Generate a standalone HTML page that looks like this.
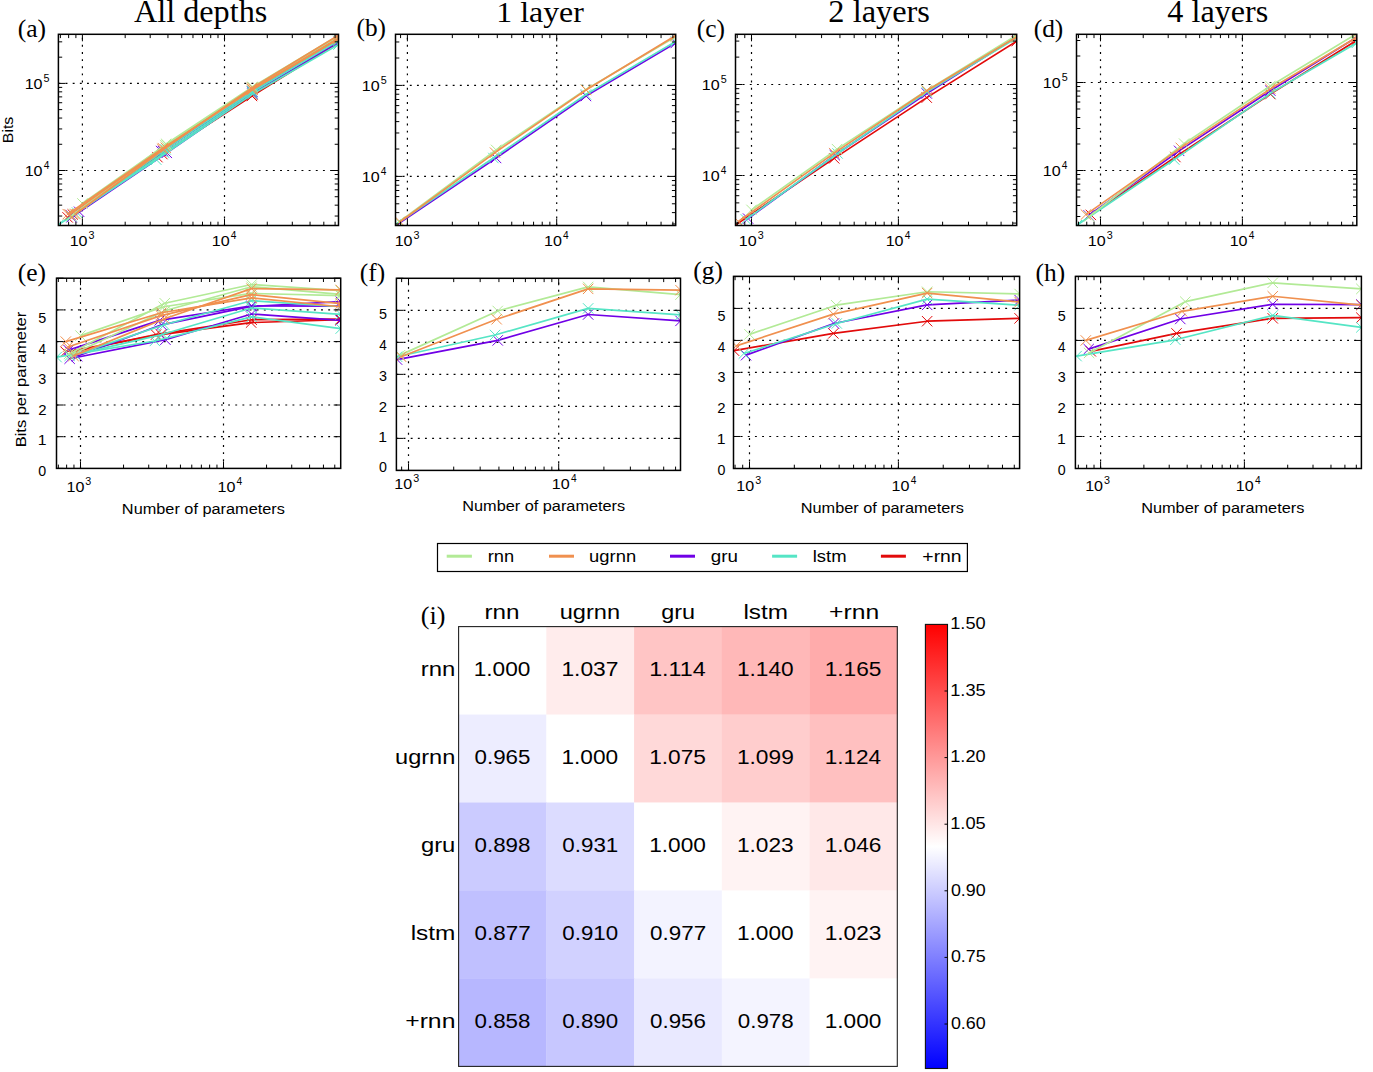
<!DOCTYPE html><html><head><meta charset="utf-8"><style>html,body{margin:0;padding:0;background:#fff;}svg{display:block;}</style></head><body><svg width="1373" height="1072" viewBox="0 0 1373 1072">
<rect width="1373" height="1072" fill="#fff"/>
<clipPath id="clip_a"><rect x="58.4" y="34.3" width="280.1" height="191.2"/></clipPath>
<g stroke="#000" stroke-width="1.2" stroke-dasharray="1.9 5.25" fill="none">
<line x1="82.4" y1="225.5" x2="82.4" y2="34.3"/>
<line x1="224.5" y1="225.5" x2="224.5" y2="34.3"/>
<line x1="58.4" y1="170.5" x2="338.5" y2="170.5"/>
<line x1="58.4" y1="83.4" x2="338.5" y2="83.4"/>
</g>
<g clip-path="url(#clip_a)" fill="none" stroke-linejoin="round">
<polyline points="67.62,217.37 162.4,154.1 251.93,95.96 338.5,42.16" stroke="#e20a0a" stroke-width="1.7"/>
<path d="M62.42 212.17L72.82 222.57M62.42 222.57L72.82 212.17M157.2 148.9L167.6 159.3M157.2 159.3L167.6 148.9M246.73 90.76L257.13 101.16M246.73 101.16L257.13 90.76M333.3 36.96L343.7 47.36M333.3 47.36L343.7 36.96" stroke="#e20a0a" stroke-width="1.0"/>
<polyline points="72.74,214.44 157.43,157.15 252.49,94.88 338.5,42" stroke="#e20a0a" stroke-width="1.7"/>
<path d="M67.54 209.24L77.94 219.64M67.54 219.64L77.94 209.24M152.23 151.95L162.63 162.35M152.23 162.35L162.63 151.95M247.29 89.68L257.69 100.08M247.29 100.08L257.69 89.68M333.3 36.8L343.7 47.2M333.3 47.2L343.7 36.8" stroke="#e20a0a" stroke-width="1.0"/>
<polyline points="71.6,217.27 166.81,152.86 252.35,93.54 338.5,42.33" stroke="#7000e6" stroke-width="1.7"/>
<path d="M66.4 212.07L76.8 222.47M66.4 222.47L76.8 212.07M161.61 147.66L172.01 158.06M161.61 158.06L172.01 147.66M247.15 88.34L257.55 98.74M247.15 98.74L257.55 88.34M333.3 37.13L343.7 47.53M333.3 47.53L343.7 37.13" stroke="#7000e6" stroke-width="1.0"/>
<polyline points="79.13,211.79 162.97,151.07 251.93,91.99 338.5,37.83" stroke="#7000e6" stroke-width="1.7"/>
<path d="M73.93 206.59L84.33 216.99M73.93 216.99L84.33 206.59M157.77 145.87L168.17 156.27M157.77 156.27L168.17 145.87M246.73 86.79L257.13 97.19M246.73 97.19L257.13 86.79M333.3 32.63L343.7 43.03M333.3 43.03L343.7 32.63" stroke="#7000e6" stroke-width="1.0"/>
<polyline points="70.61,215.03 161.12,151.05 252.49,91.49 338.5,38.85" stroke="#7000e6" stroke-width="1.7"/>
<path d="M65.41 209.83L75.81 220.23M65.41 220.23L75.81 209.83M155.92 145.85L166.32 156.25M155.92 156.25L166.32 145.85M247.29 86.29L257.69 96.69M247.29 96.69L257.69 86.29M333.3 33.65L343.7 44.05M333.3 44.05L343.7 33.65" stroke="#7000e6" stroke-width="1.0"/>
<polyline points="71.6,216.29 164.25,152.88 252.35,92.1 338.5,40.82" stroke="#55e5c5" stroke-width="1.7"/>
<path d="M66.4 211.09L76.8 221.49M66.4 221.49L76.8 211.09M159.05 147.68L169.45 158.08M159.05 158.08L169.45 147.68M247.15 86.9L257.55 97.3M247.15 97.3L257.55 86.9M333.3 35.62L343.7 46.02M333.3 46.02L343.7 35.62" stroke="#55e5c5" stroke-width="1.0"/>
<polyline points="77,212.56 165.67,149.41 251.93,90.68 338.5,38.99" stroke="#55e5c5" stroke-width="1.7"/>
<path d="M71.8 207.36L82.2 217.76M71.8 217.76L82.2 207.36M160.47 144.21L170.87 154.61M160.47 154.61L170.87 144.21M246.73 85.48L257.13 95.88M246.73 95.88L257.13 85.48M333.3 33.79L343.7 44.19M333.3 44.19L343.7 33.79" stroke="#55e5c5" stroke-width="1.0"/>
<polyline points="58.67,224.65 156.29,159.68 252.49,94.16 338.5,44.49" stroke="#55e5c5" stroke-width="1.7"/>
<path d="M53.47 219.45L63.87 229.85M53.47 229.85L63.87 219.45M151.09 154.48L161.49 164.88M151.09 164.88L161.49 154.48M247.29 88.96L257.69 99.36M247.29 99.36L257.69 88.96M333.3 39.29L343.7 49.69M333.3 49.69L343.7 39.29" stroke="#55e5c5" stroke-width="1.0"/>
<polyline points="74.44,214.02 166.81,145.13 252.35,87.39 338.5,36.21" stroke="#b2ea96" stroke-width="1.7"/>
<path d="M69.24 208.82L79.64 219.22M69.24 219.22L79.64 208.82M161.61 139.93L172.01 150.33M161.61 150.33L172.01 139.93M247.15 82.19L257.55 92.59M247.15 92.59L257.55 82.19M333.3 31.01L343.7 41.41M333.3 41.41L343.7 31.01" stroke="#b2ea96" stroke-width="1.0"/>
<polyline points="82.4,203.41 165.1,145.28 251.93,89.07 338.5,36.48" stroke="#b2ea96" stroke-width="1.7"/>
<path d="M77.2 198.21L87.6 208.61M77.2 208.61L87.6 198.21M159.9 140.08L170.3 150.48M159.9 150.48L170.3 140.08M246.73 83.87L257.13 94.27M246.73 94.27L257.13 83.87M333.3 31.28L343.7 41.68M333.3 41.68L343.7 31.28" stroke="#b2ea96" stroke-width="1.0"/>
<polyline points="71.03,216.01 166.1,143.86 252.49,86.85 338.5,35.39" stroke="#b2ea96" stroke-width="1.7"/>
<path d="M65.83 210.81L76.23 221.21M65.83 221.21L76.23 210.81M160.9 138.66L171.3 149.06M160.9 149.06L171.3 138.66M247.29 81.65L257.69 92.05M247.29 92.05L257.69 81.65M333.3 30.19L343.7 40.59M333.3 40.59L343.7 30.19" stroke="#b2ea96" stroke-width="1.0"/>
<polyline points="75.44,213.94 165.81,147.77 252.35,87.79 338.5,35.25" stroke="#f0904f" stroke-width="1.7"/>
<path d="M70.24 208.74L80.64 219.14M70.24 219.14L80.64 208.74M160.61 142.57L171.01 152.97M160.61 152.97L171.01 142.57M247.15 82.59L257.55 92.99M247.15 92.99L257.55 82.59M333.3 30.05L343.7 40.45M333.3 40.45L343.7 30.05" stroke="#f0904f" stroke-width="1.0"/>
<polyline points="69.75,214.56 162.4,149.07 251.93,89.34 338.5,38.26" stroke="#f0904f" stroke-width="1.7"/>
<path d="M64.55 209.36L74.95 219.76M64.55 219.76L74.95 209.36M157.2 143.87L167.6 154.27M157.2 154.27L167.6 143.87M246.73 84.14L257.13 94.54M246.73 94.54L257.13 84.14M333.3 33.06L343.7 43.46M333.3 43.46L343.7 33.06" stroke="#f0904f" stroke-width="1.0"/>
<polyline points="67.76,214.13 162.83,148.11 252.49,89.69 338.5,38.99" stroke="#f0904f" stroke-width="1.7"/>
<path d="M62.56 208.93L72.96 219.33M62.56 219.33L72.96 208.93M157.63 142.91L168.03 153.31M157.63 153.31L168.03 142.91M247.29 84.49L257.69 94.89M247.29 94.89L257.69 84.49M333.3 33.79L343.7 44.19M333.3 44.19L343.7 33.79" stroke="#f0904f" stroke-width="1.0"/>
</g>
<g stroke="#000" stroke-width="1.0">
<line x1="60.39" y1="225.5" x2="60.39" y2="221.7"/>
<line x1="60.39" y1="34.3" x2="60.39" y2="38.1"/>
<line x1="68.63" y1="225.5" x2="68.63" y2="221.7"/>
<line x1="68.63" y1="34.3" x2="68.63" y2="38.1"/>
<line x1="75.9" y1="225.5" x2="75.9" y2="221.7"/>
<line x1="75.9" y1="34.3" x2="75.9" y2="38.1"/>
<line x1="82.4" y1="225.5" x2="82.4" y2="218.5"/>
<line x1="82.4" y1="34.3" x2="82.4" y2="41.3"/>
<line x1="125.18" y1="225.5" x2="125.18" y2="221.7"/>
<line x1="125.18" y1="34.3" x2="125.18" y2="38.1"/>
<line x1="150.2" y1="225.5" x2="150.2" y2="221.7"/>
<line x1="150.2" y1="34.3" x2="150.2" y2="38.1"/>
<line x1="167.95" y1="225.5" x2="167.95" y2="221.7"/>
<line x1="167.95" y1="34.3" x2="167.95" y2="38.1"/>
<line x1="181.72" y1="225.5" x2="181.72" y2="221.7"/>
<line x1="181.72" y1="34.3" x2="181.72" y2="38.1"/>
<line x1="192.98" y1="225.5" x2="192.98" y2="221.7"/>
<line x1="192.98" y1="34.3" x2="192.98" y2="38.1"/>
<line x1="202.49" y1="225.5" x2="202.49" y2="221.7"/>
<line x1="202.49" y1="34.3" x2="202.49" y2="38.1"/>
<line x1="210.73" y1="225.5" x2="210.73" y2="221.7"/>
<line x1="210.73" y1="34.3" x2="210.73" y2="38.1"/>
<line x1="218" y1="225.5" x2="218" y2="221.7"/>
<line x1="218" y1="34.3" x2="218" y2="38.1"/>
<line x1="224.5" y1="225.5" x2="224.5" y2="218.5"/>
<line x1="224.5" y1="34.3" x2="224.5" y2="41.3"/>
<line x1="267.28" y1="225.5" x2="267.28" y2="221.7"/>
<line x1="267.28" y1="34.3" x2="267.28" y2="38.1"/>
<line x1="292.3" y1="225.5" x2="292.3" y2="221.7"/>
<line x1="292.3" y1="34.3" x2="292.3" y2="38.1"/>
<line x1="310.05" y1="225.5" x2="310.05" y2="221.7"/>
<line x1="310.05" y1="34.3" x2="310.05" y2="38.1"/>
<line x1="323.82" y1="225.5" x2="323.82" y2="221.7"/>
<line x1="323.82" y1="34.3" x2="323.82" y2="38.1"/>
<line x1="335.08" y1="225.5" x2="335.08" y2="221.7"/>
<line x1="335.08" y1="34.3" x2="335.08" y2="38.1"/>
<line x1="58.4" y1="216.04" x2="62.2" y2="216.04"/>
<line x1="338.5" y1="216.04" x2="334.7" y2="216.04"/>
<line x1="58.4" y1="205.16" x2="62.2" y2="205.16"/>
<line x1="338.5" y1="205.16" x2="334.7" y2="205.16"/>
<line x1="58.4" y1="196.72" x2="62.2" y2="196.72"/>
<line x1="338.5" y1="196.72" x2="334.7" y2="196.72"/>
<line x1="58.4" y1="189.82" x2="62.2" y2="189.82"/>
<line x1="338.5" y1="189.82" x2="334.7" y2="189.82"/>
<line x1="58.4" y1="183.99" x2="62.2" y2="183.99"/>
<line x1="338.5" y1="183.99" x2="334.7" y2="183.99"/>
<line x1="58.4" y1="178.94" x2="62.2" y2="178.94"/>
<line x1="338.5" y1="178.94" x2="334.7" y2="178.94"/>
<line x1="58.4" y1="174.49" x2="62.2" y2="174.49"/>
<line x1="338.5" y1="174.49" x2="334.7" y2="174.49"/>
<line x1="58.4" y1="170.5" x2="65.4" y2="170.5"/>
<line x1="338.5" y1="170.5" x2="331.5" y2="170.5"/>
<line x1="58.4" y1="144.28" x2="62.2" y2="144.28"/>
<line x1="338.5" y1="144.28" x2="334.7" y2="144.28"/>
<line x1="58.4" y1="128.94" x2="62.2" y2="128.94"/>
<line x1="338.5" y1="128.94" x2="334.7" y2="128.94"/>
<line x1="58.4" y1="118.06" x2="62.2" y2="118.06"/>
<line x1="338.5" y1="118.06" x2="334.7" y2="118.06"/>
<line x1="58.4" y1="109.62" x2="62.2" y2="109.62"/>
<line x1="338.5" y1="109.62" x2="334.7" y2="109.62"/>
<line x1="58.4" y1="102.72" x2="62.2" y2="102.72"/>
<line x1="338.5" y1="102.72" x2="334.7" y2="102.72"/>
<line x1="58.4" y1="96.89" x2="62.2" y2="96.89"/>
<line x1="338.5" y1="96.89" x2="334.7" y2="96.89"/>
<line x1="58.4" y1="91.84" x2="62.2" y2="91.84"/>
<line x1="338.5" y1="91.84" x2="334.7" y2="91.84"/>
<line x1="58.4" y1="87.39" x2="62.2" y2="87.39"/>
<line x1="338.5" y1="87.39" x2="334.7" y2="87.39"/>
<line x1="58.4" y1="83.4" x2="65.4" y2="83.4"/>
<line x1="338.5" y1="83.4" x2="331.5" y2="83.4"/>
<line x1="58.4" y1="57.18" x2="62.2" y2="57.18"/>
<line x1="338.5" y1="57.18" x2="334.7" y2="57.18"/>
<line x1="58.4" y1="41.84" x2="62.2" y2="41.84"/>
<line x1="338.5" y1="41.84" x2="334.7" y2="41.84"/>
</g>
<rect x="58.4" y="34.3" width="280.1" height="191.2" fill="none" stroke="#000" stroke-width="1.5"/>
<text x="69.68" y="245.8" font-size="15.55" font-family='"Liberation Sans", sans-serif' textLength="17.85" lengthAdjust="spacingAndGlyphs" fill="#000">10</text>
<text x="88.59" y="238.8" font-size="10.03" font-family='"Liberation Sans", sans-serif' textLength="5.98" lengthAdjust="spacingAndGlyphs" fill="#000">3</text>
<text x="211.78" y="245.8" font-size="15.55" font-family='"Liberation Sans", sans-serif' textLength="17.85" lengthAdjust="spacingAndGlyphs" fill="#000">10</text>
<text x="230.87" y="238.8" font-size="10.03" font-family='"Liberation Sans", sans-serif' textLength="5.63" lengthAdjust="spacingAndGlyphs" fill="#000">4</text>
<text x="24.68" y="175.85" font-size="15.55" font-family='"Liberation Sans", sans-serif' textLength="17.85" lengthAdjust="spacingAndGlyphs" fill="#000">10</text>
<text x="43.77" y="168.85" font-size="10.03" font-family='"Liberation Sans", sans-serif' textLength="5.63" lengthAdjust="spacingAndGlyphs" fill="#000">4</text>
<text x="24.68" y="88.75" font-size="15.55" font-family='"Liberation Sans", sans-serif' textLength="17.85" lengthAdjust="spacingAndGlyphs" fill="#000">10</text>
<text x="43.57" y="81.75" font-size="10.03" font-family='"Liberation Sans", sans-serif' textLength="5.98" lengthAdjust="spacingAndGlyphs" fill="#000">5</text>
<clipPath id="clip_b"><rect x="395.5" y="34.3" width="280.2" height="191.2"/></clipPath>
<g stroke="#000" stroke-width="1.2" stroke-dasharray="1.9 5.25" fill="none">
<line x1="407.4" y1="225.5" x2="407.4" y2="34.3"/>
<line x1="556.7" y1="225.5" x2="556.7" y2="34.3"/>
<line x1="395.5" y1="176.4" x2="675.7" y2="176.4"/>
<line x1="395.5" y1="85.4" x2="675.7" y2="85.4"/>
</g>
<g clip-path="url(#clip_b)" fill="none" stroke-linejoin="round">
<polyline points="396.05,225.26 496.08,157.97 585.96,96 675.7,42.96" stroke="#7000e6" stroke-width="1.7"/>
<path d="M390.85 220.06L401.25 230.46M390.85 230.46L401.25 220.06M490.88 152.77L501.28 163.17M490.88 163.17L501.28 152.77M580.76 90.8L591.16 101.2M580.76 101.2L591.16 90.8M670.5 37.76L680.9 48.16M670.5 48.16L680.9 37.76" stroke="#7000e6" stroke-width="1.0"/>
<polyline points="396.05,224.25 493.4,157.99 585.96,94.49 675.7,41.38" stroke="#55e5c5" stroke-width="1.7"/>
<path d="M390.85 219.05L401.25 229.45M390.85 229.45L401.25 219.05M488.2 152.79L498.6 163.19M488.2 163.19L498.6 152.79M580.76 89.29L591.16 99.69M580.76 99.69L591.16 89.29M670.5 36.18L680.9 46.58M670.5 46.58L680.9 36.18" stroke="#55e5c5" stroke-width="1.0"/>
<polyline points="399.04,221.87 496.08,149.9 585.96,89.57 675.7,36.57" stroke="#b2ea96" stroke-width="1.7"/>
<path d="M393.84 216.67L404.24 227.07M393.84 227.07L404.24 216.67M490.88 144.7L501.28 155.1M490.88 155.1L501.28 144.7M580.76 84.37L591.16 94.77M580.76 94.77L591.16 84.37M670.5 31.37L680.9 41.77M670.5 41.77L680.9 31.37" stroke="#b2ea96" stroke-width="1.0"/>
<polyline points="400.08,221.79 495.04,152.65 585.96,89.99 675.7,35.57" stroke="#f0904f" stroke-width="1.7"/>
<path d="M394.88 216.59L405.28 226.99M394.88 226.99L405.28 216.59M489.84 147.45L500.24 157.85M489.84 157.85L500.24 147.45M580.76 84.79L591.16 95.19M580.76 95.19L591.16 84.79M670.5 30.37L680.9 40.77M670.5 40.77L680.9 30.37" stroke="#f0904f" stroke-width="1.0"/>
</g>
<g stroke="#000" stroke-width="1.0">
<line x1="400.57" y1="225.5" x2="400.57" y2="221.7"/>
<line x1="400.57" y1="34.3" x2="400.57" y2="38.1"/>
<line x1="407.4" y1="225.5" x2="407.4" y2="218.5"/>
<line x1="407.4" y1="34.3" x2="407.4" y2="41.3"/>
<line x1="452.34" y1="225.5" x2="452.34" y2="221.7"/>
<line x1="452.34" y1="34.3" x2="452.34" y2="38.1"/>
<line x1="478.63" y1="225.5" x2="478.63" y2="221.7"/>
<line x1="478.63" y1="34.3" x2="478.63" y2="38.1"/>
<line x1="497.29" y1="225.5" x2="497.29" y2="221.7"/>
<line x1="497.29" y1="34.3" x2="497.29" y2="38.1"/>
<line x1="511.76" y1="225.5" x2="511.76" y2="221.7"/>
<line x1="511.76" y1="34.3" x2="511.76" y2="38.1"/>
<line x1="523.58" y1="225.5" x2="523.58" y2="221.7"/>
<line x1="523.58" y1="34.3" x2="523.58" y2="38.1"/>
<line x1="533.57" y1="225.5" x2="533.57" y2="221.7"/>
<line x1="533.57" y1="34.3" x2="533.57" y2="38.1"/>
<line x1="542.23" y1="225.5" x2="542.23" y2="221.7"/>
<line x1="542.23" y1="34.3" x2="542.23" y2="38.1"/>
<line x1="549.87" y1="225.5" x2="549.87" y2="221.7"/>
<line x1="549.87" y1="34.3" x2="549.87" y2="38.1"/>
<line x1="556.7" y1="225.5" x2="556.7" y2="218.5"/>
<line x1="556.7" y1="34.3" x2="556.7" y2="41.3"/>
<line x1="601.64" y1="225.5" x2="601.64" y2="221.7"/>
<line x1="601.64" y1="34.3" x2="601.64" y2="38.1"/>
<line x1="627.93" y1="225.5" x2="627.93" y2="221.7"/>
<line x1="627.93" y1="34.3" x2="627.93" y2="38.1"/>
<line x1="646.59" y1="225.5" x2="646.59" y2="221.7"/>
<line x1="646.59" y1="34.3" x2="646.59" y2="38.1"/>
<line x1="661.06" y1="225.5" x2="661.06" y2="221.7"/>
<line x1="661.06" y1="34.3" x2="661.06" y2="38.1"/>
<line x1="672.88" y1="225.5" x2="672.88" y2="221.7"/>
<line x1="672.88" y1="34.3" x2="672.88" y2="38.1"/>
<line x1="395.5" y1="223.98" x2="399.3" y2="223.98"/>
<line x1="675.7" y1="223.98" x2="671.9" y2="223.98"/>
<line x1="395.5" y1="212.61" x2="399.3" y2="212.61"/>
<line x1="675.7" y1="212.61" x2="671.9" y2="212.61"/>
<line x1="395.5" y1="203.79" x2="399.3" y2="203.79"/>
<line x1="675.7" y1="203.79" x2="671.9" y2="203.79"/>
<line x1="395.5" y1="196.59" x2="399.3" y2="196.59"/>
<line x1="675.7" y1="196.59" x2="671.9" y2="196.59"/>
<line x1="395.5" y1="190.5" x2="399.3" y2="190.5"/>
<line x1="675.7" y1="190.5" x2="671.9" y2="190.5"/>
<line x1="395.5" y1="185.22" x2="399.3" y2="185.22"/>
<line x1="675.7" y1="185.22" x2="671.9" y2="185.22"/>
<line x1="395.5" y1="180.56" x2="399.3" y2="180.56"/>
<line x1="675.7" y1="180.56" x2="671.9" y2="180.56"/>
<line x1="395.5" y1="176.4" x2="402.5" y2="176.4"/>
<line x1="675.7" y1="176.4" x2="668.7" y2="176.4"/>
<line x1="395.5" y1="149.01" x2="399.3" y2="149.01"/>
<line x1="675.7" y1="149.01" x2="671.9" y2="149.01"/>
<line x1="395.5" y1="132.98" x2="399.3" y2="132.98"/>
<line x1="675.7" y1="132.98" x2="671.9" y2="132.98"/>
<line x1="395.5" y1="121.61" x2="399.3" y2="121.61"/>
<line x1="675.7" y1="121.61" x2="671.9" y2="121.61"/>
<line x1="395.5" y1="112.79" x2="399.3" y2="112.79"/>
<line x1="675.7" y1="112.79" x2="671.9" y2="112.79"/>
<line x1="395.5" y1="105.59" x2="399.3" y2="105.59"/>
<line x1="675.7" y1="105.59" x2="671.9" y2="105.59"/>
<line x1="395.5" y1="99.5" x2="399.3" y2="99.5"/>
<line x1="675.7" y1="99.5" x2="671.9" y2="99.5"/>
<line x1="395.5" y1="94.22" x2="399.3" y2="94.22"/>
<line x1="675.7" y1="94.22" x2="671.9" y2="94.22"/>
<line x1="395.5" y1="89.56" x2="399.3" y2="89.56"/>
<line x1="675.7" y1="89.56" x2="671.9" y2="89.56"/>
<line x1="395.5" y1="85.4" x2="402.5" y2="85.4"/>
<line x1="675.7" y1="85.4" x2="668.7" y2="85.4"/>
<line x1="395.5" y1="58.01" x2="399.3" y2="58.01"/>
<line x1="675.7" y1="58.01" x2="671.9" y2="58.01"/>
<line x1="395.5" y1="41.98" x2="399.3" y2="41.98"/>
<line x1="675.7" y1="41.98" x2="671.9" y2="41.98"/>
</g>
<rect x="395.5" y="34.3" width="280.2" height="191.2" fill="none" stroke="#000" stroke-width="1.5"/>
<text x="394.68" y="245.8" font-size="15.55" font-family='"Liberation Sans", sans-serif' textLength="17.85" lengthAdjust="spacingAndGlyphs" fill="#000">10</text>
<text x="413.59" y="238.8" font-size="10.03" font-family='"Liberation Sans", sans-serif' textLength="5.98" lengthAdjust="spacingAndGlyphs" fill="#000">3</text>
<text x="543.98" y="245.8" font-size="15.55" font-family='"Liberation Sans", sans-serif' textLength="17.85" lengthAdjust="spacingAndGlyphs" fill="#000">10</text>
<text x="563.07" y="238.8" font-size="10.03" font-family='"Liberation Sans", sans-serif' textLength="5.63" lengthAdjust="spacingAndGlyphs" fill="#000">4</text>
<text x="361.78" y="181.75" font-size="15.55" font-family='"Liberation Sans", sans-serif' textLength="17.85" lengthAdjust="spacingAndGlyphs" fill="#000">10</text>
<text x="380.87" y="174.75" font-size="10.03" font-family='"Liberation Sans", sans-serif' textLength="5.63" lengthAdjust="spacingAndGlyphs" fill="#000">4</text>
<text x="361.78" y="90.75" font-size="15.55" font-family='"Liberation Sans", sans-serif' textLength="17.85" lengthAdjust="spacingAndGlyphs" fill="#000">10</text>
<text x="380.67" y="83.75" font-size="10.03" font-family='"Liberation Sans", sans-serif' textLength="5.98" lengthAdjust="spacingAndGlyphs" fill="#000">5</text>
<clipPath id="clip_c"><rect x="735.5" y="34.3" width="281.2" height="191.2"/></clipPath>
<g stroke="#000" stroke-width="1.2" stroke-dasharray="1.9 5.25" fill="none">
<line x1="751.5" y1="225.5" x2="751.5" y2="34.3"/>
<line x1="898.4" y1="225.5" x2="898.4" y2="34.3"/>
<line x1="735.5" y1="175.5" x2="1016.7" y2="175.5"/>
<line x1="735.5" y1="84.5" x2="1016.7" y2="84.5"/>
</g>
<g clip-path="url(#clip_c)" fill="none" stroke-linejoin="round">
<polyline points="736.22,224.47 834.2,158.36 926.75,97.63 1016.7,41.14" stroke="#e20a0a" stroke-width="1.7"/>
<path d="M731.02 219.27L741.42 229.67M731.02 229.67L741.42 219.27M829 153.16L839.4 163.56M829 163.56L839.4 153.16M921.55 92.43L931.95 102.83M921.55 102.83L931.95 92.43M1011.5 35.94L1021.9 46.34M1011.5 46.34L1021.9 35.94" stroke="#e20a0a" stroke-width="1.0"/>
<polyline points="748.12,218.63 834.79,155.2 926.75,93.47 1016.7,36.61" stroke="#7000e6" stroke-width="1.7"/>
<path d="M742.92 213.43L753.32 223.83M742.92 223.83L753.32 213.43M829.59 150L839.99 160.4M829.59 160.4L839.99 150M921.55 88.27L931.95 98.67M921.55 98.67L931.95 88.27M1011.5 31.41L1021.9 41.81M1011.5 41.81L1021.9 31.41" stroke="#7000e6" stroke-width="1.0"/>
<polyline points="745.92,219.44 837.58,153.47 926.75,92.1 1016.7,37.83" stroke="#55e5c5" stroke-width="1.7"/>
<path d="M740.72 214.24L751.12 224.64M740.72 224.64L751.12 214.24M832.38 148.27L842.78 158.67M832.38 158.67L842.78 148.27M921.55 86.9L931.95 97.3M921.55 97.3L931.95 86.9M1011.5 32.63L1021.9 43.03M1011.5 43.03L1021.9 32.63" stroke="#55e5c5" stroke-width="1.0"/>
<polyline points="751.5,209.88 837,149.15 926.75,90.42 1016.7,35.2" stroke="#b2ea96" stroke-width="1.7"/>
<path d="M746.3 204.68L756.7 215.08M746.3 215.08L756.7 204.68M831.8 143.95L842.2 154.35M831.8 154.35L842.2 143.95M921.55 85.22L931.95 95.62M921.55 95.62L931.95 85.22M1011.5 30L1021.9 40.4M1011.5 40.4L1021.9 30" stroke="#b2ea96" stroke-width="1.0"/>
<polyline points="738.43,221.53 834.2,153.11 926.75,90.71 1016.7,37.06" stroke="#f0904f" stroke-width="1.7"/>
<path d="M733.23 216.33L743.63 226.73M733.23 226.73L743.63 216.33M829 147.91L839.4 158.31M829 158.31L839.4 147.91M921.55 85.51L931.95 95.91M921.55 95.91L931.95 85.51M1011.5 31.86L1021.9 42.26M1011.5 42.26L1021.9 31.86" stroke="#f0904f" stroke-width="1.0"/>
</g>
<g stroke="#000" stroke-width="1.0">
<line x1="737.26" y1="225.5" x2="737.26" y2="221.7"/>
<line x1="737.26" y1="34.3" x2="737.26" y2="38.1"/>
<line x1="744.78" y1="225.5" x2="744.78" y2="221.7"/>
<line x1="744.78" y1="34.3" x2="744.78" y2="38.1"/>
<line x1="751.5" y1="225.5" x2="751.5" y2="218.5"/>
<line x1="751.5" y1="34.3" x2="751.5" y2="41.3"/>
<line x1="795.72" y1="225.5" x2="795.72" y2="221.7"/>
<line x1="795.72" y1="34.3" x2="795.72" y2="38.1"/>
<line x1="821.59" y1="225.5" x2="821.59" y2="221.7"/>
<line x1="821.59" y1="34.3" x2="821.59" y2="38.1"/>
<line x1="839.94" y1="225.5" x2="839.94" y2="221.7"/>
<line x1="839.94" y1="34.3" x2="839.94" y2="38.1"/>
<line x1="854.18" y1="225.5" x2="854.18" y2="221.7"/>
<line x1="854.18" y1="34.3" x2="854.18" y2="38.1"/>
<line x1="865.81" y1="225.5" x2="865.81" y2="221.7"/>
<line x1="865.81" y1="34.3" x2="865.81" y2="38.1"/>
<line x1="875.64" y1="225.5" x2="875.64" y2="221.7"/>
<line x1="875.64" y1="34.3" x2="875.64" y2="38.1"/>
<line x1="884.16" y1="225.5" x2="884.16" y2="221.7"/>
<line x1="884.16" y1="34.3" x2="884.16" y2="38.1"/>
<line x1="891.68" y1="225.5" x2="891.68" y2="221.7"/>
<line x1="891.68" y1="34.3" x2="891.68" y2="38.1"/>
<line x1="898.4" y1="225.5" x2="898.4" y2="218.5"/>
<line x1="898.4" y1="34.3" x2="898.4" y2="41.3"/>
<line x1="942.62" y1="225.5" x2="942.62" y2="221.7"/>
<line x1="942.62" y1="34.3" x2="942.62" y2="38.1"/>
<line x1="968.49" y1="225.5" x2="968.49" y2="221.7"/>
<line x1="968.49" y1="34.3" x2="968.49" y2="38.1"/>
<line x1="986.84" y1="225.5" x2="986.84" y2="221.7"/>
<line x1="986.84" y1="34.3" x2="986.84" y2="38.1"/>
<line x1="1001.08" y1="225.5" x2="1001.08" y2="221.7"/>
<line x1="1001.08" y1="34.3" x2="1001.08" y2="38.1"/>
<line x1="1012.71" y1="225.5" x2="1012.71" y2="221.7"/>
<line x1="1012.71" y1="34.3" x2="1012.71" y2="38.1"/>
<line x1="735.5" y1="223.08" x2="739.3" y2="223.08"/>
<line x1="1016.7" y1="223.08" x2="1012.9" y2="223.08"/>
<line x1="735.5" y1="211.71" x2="739.3" y2="211.71"/>
<line x1="1016.7" y1="211.71" x2="1012.9" y2="211.71"/>
<line x1="735.5" y1="202.89" x2="739.3" y2="202.89"/>
<line x1="1016.7" y1="202.89" x2="1012.9" y2="202.89"/>
<line x1="735.5" y1="195.69" x2="739.3" y2="195.69"/>
<line x1="1016.7" y1="195.69" x2="1012.9" y2="195.69"/>
<line x1="735.5" y1="189.6" x2="739.3" y2="189.6"/>
<line x1="1016.7" y1="189.6" x2="1012.9" y2="189.6"/>
<line x1="735.5" y1="184.32" x2="739.3" y2="184.32"/>
<line x1="1016.7" y1="184.32" x2="1012.9" y2="184.32"/>
<line x1="735.5" y1="179.66" x2="739.3" y2="179.66"/>
<line x1="1016.7" y1="179.66" x2="1012.9" y2="179.66"/>
<line x1="735.5" y1="175.5" x2="742.5" y2="175.5"/>
<line x1="1016.7" y1="175.5" x2="1009.7" y2="175.5"/>
<line x1="735.5" y1="148.11" x2="739.3" y2="148.11"/>
<line x1="1016.7" y1="148.11" x2="1012.9" y2="148.11"/>
<line x1="735.5" y1="132.08" x2="739.3" y2="132.08"/>
<line x1="1016.7" y1="132.08" x2="1012.9" y2="132.08"/>
<line x1="735.5" y1="120.71" x2="739.3" y2="120.71"/>
<line x1="1016.7" y1="120.71" x2="1012.9" y2="120.71"/>
<line x1="735.5" y1="111.89" x2="739.3" y2="111.89"/>
<line x1="1016.7" y1="111.89" x2="1012.9" y2="111.89"/>
<line x1="735.5" y1="104.69" x2="739.3" y2="104.69"/>
<line x1="1016.7" y1="104.69" x2="1012.9" y2="104.69"/>
<line x1="735.5" y1="98.6" x2="739.3" y2="98.6"/>
<line x1="1016.7" y1="98.6" x2="1012.9" y2="98.6"/>
<line x1="735.5" y1="93.32" x2="739.3" y2="93.32"/>
<line x1="1016.7" y1="93.32" x2="1012.9" y2="93.32"/>
<line x1="735.5" y1="88.66" x2="739.3" y2="88.66"/>
<line x1="1016.7" y1="88.66" x2="1012.9" y2="88.66"/>
<line x1="735.5" y1="84.5" x2="742.5" y2="84.5"/>
<line x1="1016.7" y1="84.5" x2="1009.7" y2="84.5"/>
<line x1="735.5" y1="57.11" x2="739.3" y2="57.11"/>
<line x1="1016.7" y1="57.11" x2="1012.9" y2="57.11"/>
<line x1="735.5" y1="41.08" x2="739.3" y2="41.08"/>
<line x1="1016.7" y1="41.08" x2="1012.9" y2="41.08"/>
</g>
<rect x="735.5" y="34.3" width="281.2" height="191.2" fill="none" stroke="#000" stroke-width="1.5"/>
<text x="738.78" y="245.8" font-size="15.55" font-family='"Liberation Sans", sans-serif' textLength="17.85" lengthAdjust="spacingAndGlyphs" fill="#000">10</text>
<text x="757.69" y="238.8" font-size="10.03" font-family='"Liberation Sans", sans-serif' textLength="5.98" lengthAdjust="spacingAndGlyphs" fill="#000">3</text>
<text x="885.68" y="245.8" font-size="15.55" font-family='"Liberation Sans", sans-serif' textLength="17.85" lengthAdjust="spacingAndGlyphs" fill="#000">10</text>
<text x="904.77" y="238.8" font-size="10.03" font-family='"Liberation Sans", sans-serif' textLength="5.63" lengthAdjust="spacingAndGlyphs" fill="#000">4</text>
<text x="701.78" y="180.85" font-size="15.55" font-family='"Liberation Sans", sans-serif' textLength="17.85" lengthAdjust="spacingAndGlyphs" fill="#000">10</text>
<text x="720.87" y="173.85" font-size="10.03" font-family='"Liberation Sans", sans-serif' textLength="5.63" lengthAdjust="spacingAndGlyphs" fill="#000">4</text>
<text x="701.78" y="89.85" font-size="15.55" font-family='"Liberation Sans", sans-serif' textLength="17.85" lengthAdjust="spacingAndGlyphs" fill="#000">10</text>
<text x="720.67" y="82.85" font-size="10.03" font-family='"Liberation Sans", sans-serif' textLength="5.98" lengthAdjust="spacingAndGlyphs" fill="#000">5</text>
<clipPath id="clip_d"><rect x="1076.5" y="34.3" width="280.3" height="191.2"/></clipPath>
<g stroke="#000" stroke-width="1.2" stroke-dasharray="1.9 5.25" fill="none">
<line x1="1100.5" y1="225.5" x2="1100.5" y2="34.3"/>
<line x1="1242.4" y1="225.5" x2="1242.4" y2="34.3"/>
<line x1="1076.5" y1="170.5" x2="1356.8" y2="170.5"/>
<line x1="1076.5" y1="82.5" x2="1356.8" y2="82.5"/>
</g>
<g clip-path="url(#clip_d)" fill="none" stroke-linejoin="round">
<polyline points="1090.85,214.9 1175.42,157.01 1270.35,94.1 1356.8,40.33" stroke="#e20a0a" stroke-width="1.7"/>
<path d="M1085.65 209.7L1096.05 220.1M1085.65 220.1L1096.05 209.7M1170.22 151.81L1180.62 162.21M1170.22 162.21L1180.62 151.81M1265.15 88.9L1275.55 99.3M1265.15 99.3L1275.55 88.9M1351.6 35.13L1362 45.53M1351.6 45.53L1362 35.13" stroke="#e20a0a" stroke-width="1.0"/>
<polyline points="1088.72,215.49 1179.11,150.85 1270.35,90.67 1356.8,37.14" stroke="#7000e6" stroke-width="1.7"/>
<path d="M1083.52 210.29L1093.92 220.69M1083.52 220.69L1093.92 210.29M1173.91 145.65L1184.31 156.05M1173.91 156.05L1184.31 145.65M1265.15 85.47L1275.55 95.87M1265.15 95.87L1275.55 85.47M1351.6 31.94L1362 42.34M1351.6 42.34L1362 31.94" stroke="#7000e6" stroke-width="1.0"/>
<polyline points="1076.8,225.21 1174.29,159.57 1270.35,93.37 1356.8,42.84" stroke="#55e5c5" stroke-width="1.7"/>
<path d="M1071.6 220.01L1082 230.41M1071.6 230.41L1082 220.01M1169.09 154.37L1179.49 164.77M1169.09 164.77L1179.49 154.37M1265.15 88.17L1275.55 98.57M1265.15 98.57L1275.55 88.17M1351.6 37.64L1362 48.04M1351.6 48.04L1362 37.64" stroke="#55e5c5" stroke-width="1.0"/>
<polyline points="1089.15,216.48 1184.08,143.59 1270.35,85.98 1356.8,33.65" stroke="#b2ea96" stroke-width="1.7"/>
<path d="M1083.95 211.28L1094.35 221.68M1083.95 221.68L1094.35 211.28M1178.88 138.39L1189.28 148.79M1178.88 148.79L1189.28 138.39M1265.15 80.78L1275.55 91.18M1265.15 91.18L1275.55 80.78M1351.6 28.45L1362 38.85M1351.6 38.85L1362 28.45" stroke="#b2ea96" stroke-width="1.0"/>
<polyline points="1085.88,214.58 1180.82,147.88 1270.35,88.86 1356.8,37.29" stroke="#f0904f" stroke-width="1.7"/>
<path d="M1080.68 209.38L1091.08 219.78M1080.68 219.78L1091.08 209.38M1175.62 142.68L1186.02 153.08M1175.62 153.08L1186.02 142.68M1265.15 83.66L1275.55 94.06M1265.15 94.06L1275.55 83.66M1351.6 32.09L1362 42.49M1351.6 42.49L1362 32.09" stroke="#f0904f" stroke-width="1.0"/>
</g>
<g stroke="#000" stroke-width="1.0">
<line x1="1078.52" y1="225.5" x2="1078.52" y2="221.7"/>
<line x1="1078.52" y1="34.3" x2="1078.52" y2="38.1"/>
<line x1="1086.75" y1="225.5" x2="1086.75" y2="221.7"/>
<line x1="1086.75" y1="34.3" x2="1086.75" y2="38.1"/>
<line x1="1094.01" y1="225.5" x2="1094.01" y2="221.7"/>
<line x1="1094.01" y1="34.3" x2="1094.01" y2="38.1"/>
<line x1="1100.5" y1="225.5" x2="1100.5" y2="218.5"/>
<line x1="1100.5" y1="34.3" x2="1100.5" y2="41.3"/>
<line x1="1143.22" y1="225.5" x2="1143.22" y2="221.7"/>
<line x1="1143.22" y1="34.3" x2="1143.22" y2="38.1"/>
<line x1="1168.2" y1="225.5" x2="1168.2" y2="221.7"/>
<line x1="1168.2" y1="34.3" x2="1168.2" y2="38.1"/>
<line x1="1185.93" y1="225.5" x2="1185.93" y2="221.7"/>
<line x1="1185.93" y1="34.3" x2="1185.93" y2="38.1"/>
<line x1="1199.68" y1="225.5" x2="1199.68" y2="221.7"/>
<line x1="1199.68" y1="34.3" x2="1199.68" y2="38.1"/>
<line x1="1210.92" y1="225.5" x2="1210.92" y2="221.7"/>
<line x1="1210.92" y1="34.3" x2="1210.92" y2="38.1"/>
<line x1="1220.42" y1="225.5" x2="1220.42" y2="221.7"/>
<line x1="1220.42" y1="34.3" x2="1220.42" y2="38.1"/>
<line x1="1228.65" y1="225.5" x2="1228.65" y2="221.7"/>
<line x1="1228.65" y1="34.3" x2="1228.65" y2="38.1"/>
<line x1="1235.91" y1="225.5" x2="1235.91" y2="221.7"/>
<line x1="1235.91" y1="34.3" x2="1235.91" y2="38.1"/>
<line x1="1242.4" y1="225.5" x2="1242.4" y2="218.5"/>
<line x1="1242.4" y1="34.3" x2="1242.4" y2="41.3"/>
<line x1="1285.12" y1="225.5" x2="1285.12" y2="221.7"/>
<line x1="1285.12" y1="34.3" x2="1285.12" y2="38.1"/>
<line x1="1310.1" y1="225.5" x2="1310.1" y2="221.7"/>
<line x1="1310.1" y1="34.3" x2="1310.1" y2="38.1"/>
<line x1="1327.83" y1="225.5" x2="1327.83" y2="221.7"/>
<line x1="1327.83" y1="34.3" x2="1327.83" y2="38.1"/>
<line x1="1341.58" y1="225.5" x2="1341.58" y2="221.7"/>
<line x1="1341.58" y1="34.3" x2="1341.58" y2="38.1"/>
<line x1="1352.82" y1="225.5" x2="1352.82" y2="221.7"/>
<line x1="1352.82" y1="34.3" x2="1352.82" y2="38.1"/>
<line x1="1076.5" y1="216.51" x2="1080.3" y2="216.51"/>
<line x1="1356.8" y1="216.51" x2="1353" y2="216.51"/>
<line x1="1076.5" y1="205.52" x2="1080.3" y2="205.52"/>
<line x1="1356.8" y1="205.52" x2="1353" y2="205.52"/>
<line x1="1076.5" y1="196.99" x2="1080.3" y2="196.99"/>
<line x1="1356.8" y1="196.99" x2="1353" y2="196.99"/>
<line x1="1076.5" y1="190.02" x2="1080.3" y2="190.02"/>
<line x1="1356.8" y1="190.02" x2="1353" y2="190.02"/>
<line x1="1076.5" y1="184.13" x2="1080.3" y2="184.13"/>
<line x1="1356.8" y1="184.13" x2="1353" y2="184.13"/>
<line x1="1076.5" y1="179.03" x2="1080.3" y2="179.03"/>
<line x1="1356.8" y1="179.03" x2="1353" y2="179.03"/>
<line x1="1076.5" y1="174.53" x2="1080.3" y2="174.53"/>
<line x1="1356.8" y1="174.53" x2="1353" y2="174.53"/>
<line x1="1076.5" y1="170.5" x2="1083.5" y2="170.5"/>
<line x1="1356.8" y1="170.5" x2="1349.8" y2="170.5"/>
<line x1="1076.5" y1="144.01" x2="1080.3" y2="144.01"/>
<line x1="1356.8" y1="144.01" x2="1353" y2="144.01"/>
<line x1="1076.5" y1="128.51" x2="1080.3" y2="128.51"/>
<line x1="1356.8" y1="128.51" x2="1353" y2="128.51"/>
<line x1="1076.5" y1="117.52" x2="1080.3" y2="117.52"/>
<line x1="1356.8" y1="117.52" x2="1353" y2="117.52"/>
<line x1="1076.5" y1="108.99" x2="1080.3" y2="108.99"/>
<line x1="1356.8" y1="108.99" x2="1353" y2="108.99"/>
<line x1="1076.5" y1="102.02" x2="1080.3" y2="102.02"/>
<line x1="1356.8" y1="102.02" x2="1353" y2="102.02"/>
<line x1="1076.5" y1="96.13" x2="1080.3" y2="96.13"/>
<line x1="1356.8" y1="96.13" x2="1353" y2="96.13"/>
<line x1="1076.5" y1="91.03" x2="1080.3" y2="91.03"/>
<line x1="1356.8" y1="91.03" x2="1353" y2="91.03"/>
<line x1="1076.5" y1="86.53" x2="1080.3" y2="86.53"/>
<line x1="1356.8" y1="86.53" x2="1353" y2="86.53"/>
<line x1="1076.5" y1="82.5" x2="1083.5" y2="82.5"/>
<line x1="1356.8" y1="82.5" x2="1349.8" y2="82.5"/>
<line x1="1076.5" y1="56.01" x2="1080.3" y2="56.01"/>
<line x1="1356.8" y1="56.01" x2="1353" y2="56.01"/>
<line x1="1076.5" y1="40.51" x2="1080.3" y2="40.51"/>
<line x1="1356.8" y1="40.51" x2="1353" y2="40.51"/>
</g>
<rect x="1076.5" y="34.3" width="280.3" height="191.2" fill="none" stroke="#000" stroke-width="1.5"/>
<text x="1087.78" y="245.8" font-size="15.55" font-family='"Liberation Sans", sans-serif' textLength="17.85" lengthAdjust="spacingAndGlyphs" fill="#000">10</text>
<text x="1106.69" y="238.8" font-size="10.03" font-family='"Liberation Sans", sans-serif' textLength="5.98" lengthAdjust="spacingAndGlyphs" fill="#000">3</text>
<text x="1229.68" y="245.8" font-size="15.55" font-family='"Liberation Sans", sans-serif' textLength="17.85" lengthAdjust="spacingAndGlyphs" fill="#000">10</text>
<text x="1248.77" y="238.8" font-size="10.03" font-family='"Liberation Sans", sans-serif' textLength="5.63" lengthAdjust="spacingAndGlyphs" fill="#000">4</text>
<text x="1042.78" y="175.85" font-size="15.55" font-family='"Liberation Sans", sans-serif' textLength="17.85" lengthAdjust="spacingAndGlyphs" fill="#000">10</text>
<text x="1061.87" y="168.85" font-size="10.03" font-family='"Liberation Sans", sans-serif' textLength="5.63" lengthAdjust="spacingAndGlyphs" fill="#000">4</text>
<text x="1042.78" y="87.85" font-size="15.55" font-family='"Liberation Sans", sans-serif' textLength="17.85" lengthAdjust="spacingAndGlyphs" fill="#000">10</text>
<text x="1061.67" y="80.85" font-size="10.03" font-family='"Liberation Sans", sans-serif' textLength="5.98" lengthAdjust="spacingAndGlyphs" fill="#000">5</text>
<clipPath id="clip_e"><rect x="56.5" y="278.2" width="284.2" height="190.2"/></clipPath>
<g stroke="#000" stroke-width="1.2" stroke-dasharray="1.9 5.25" fill="none">
<line x1="80.5" y1="468.4" x2="80.5" y2="278.2"/>
<line x1="223.5" y1="468.4" x2="223.5" y2="278.2"/>
<line x1="56.5" y1="436.7" x2="340.7" y2="436.7"/>
<line x1="56.5" y1="405" x2="340.7" y2="405"/>
<line x1="56.5" y1="373.3" x2="340.7" y2="373.3"/>
<line x1="56.5" y1="341.6" x2="340.7" y2="341.6"/>
<line x1="56.5" y1="309.9" x2="340.7" y2="309.9"/>
</g>
<g clip-path="url(#clip_e)" fill="none" stroke-linejoin="round">
<polyline points="65.63,351.74 161.01,334.63 251.1,322.58 340.7,319.73" stroke="#e20a0a" stroke-width="1.7"/>
<path d="M60.43 346.54L70.83 356.94M60.43 356.94L70.83 346.54M155.81 329.43L166.21 339.83M155.81 339.83L166.21 329.43M245.9 317.38L256.3 327.78M245.9 327.78L256.3 317.38M335.5 314.53L345.9 324.93M335.5 324.93L345.9 314.53" stroke="#e20a0a" stroke-width="1.0"/>
<polyline points="70.78,352.38 156,334.63 251.67,319.73 340.7,319.09" stroke="#e20a0a" stroke-width="1.7"/>
<path d="M65.58 347.18L75.98 357.58M65.58 357.58L75.98 347.18M150.8 329.43L161.2 339.83M150.8 339.83L161.2 329.43M246.47 314.53L256.87 324.93M246.47 324.93L256.87 314.53M335.5 313.89L345.9 324.29M335.5 324.29L345.9 313.89" stroke="#e20a0a" stroke-width="1.0"/>
<polyline points="69.63,358.72 165.44,339.7 251.53,314.02 340.7,320.36" stroke="#7000e6" stroke-width="1.7"/>
<path d="M64.43 353.52L74.83 363.92M64.43 363.92L74.83 353.52M160.24 334.5L170.64 344.9M160.24 344.9L170.64 334.5M246.33 308.82L256.73 319.22M246.33 319.22L256.73 308.82M335.5 315.16L345.9 325.56M335.5 325.56L345.9 315.16" stroke="#7000e6" stroke-width="1.0"/>
<polyline points="77.21,356.18 161.58,324.8 251.1,306.41 340.7,301.66" stroke="#7000e6" stroke-width="1.7"/>
<path d="M72.01 350.98L82.41 361.38M72.01 361.38L82.41 350.98M156.38 319.6L166.78 330M156.38 330L166.78 319.6M245.9 301.21L256.3 311.61M245.9 311.61L256.3 301.21M335.5 296.46L345.9 306.86M335.5 306.86L345.9 296.46" stroke="#7000e6" stroke-width="1.0"/>
<polyline points="68.63,350.16 159.72,320.36 251.67,305.78 340.7,306.1" stroke="#7000e6" stroke-width="1.7"/>
<path d="M63.43 344.96L73.83 355.36M63.43 355.36L73.83 344.96M154.52 315.16L164.92 325.56M154.52 325.56L164.92 315.16M246.47 300.58L256.87 310.98M246.47 310.98L256.87 300.58M335.5 300.9L345.9 311.3M335.5 311.3L345.9 300.9" stroke="#7000e6" stroke-width="1.0"/>
<polyline points="69.63,355.87 162.87,334.31 251.53,308 340.7,314.34" stroke="#55e5c5" stroke-width="1.7"/>
<path d="M64.43 350.67L74.83 361.06M64.43 361.06L74.83 350.67M157.67 329.11L168.07 339.51M157.67 339.51L168.07 329.11M246.33 302.8L256.73 313.2M246.33 313.2L256.73 302.8M335.5 309.14L345.9 319.54M335.5 319.54L345.9 309.14" stroke="#55e5c5" stroke-width="1.0"/>
<polyline points="75.07,354.6 164.3,324.8 251.1,300.71 340.7,306.73" stroke="#55e5c5" stroke-width="1.7"/>
<path d="M69.87 349.4L80.27 359.8M69.87 359.8L80.27 349.4M159.1 319.6L169.5 330M159.1 330L169.5 319.6M245.9 295.51L256.3 305.91M245.9 305.91L256.3 295.51M335.5 301.53L345.9 311.93M335.5 311.93L345.9 301.53" stroke="#55e5c5" stroke-width="1.0"/>
<polyline points="56.62,357.13 154.86,340.97 251.67,316.87 340.7,328.6" stroke="#55e5c5" stroke-width="1.7"/>
<path d="M51.42 351.93L61.82 362.33M51.42 362.33L61.82 351.93M149.66 335.77L160.06 346.17M149.66 346.17L160.06 335.77M246.47 311.67L256.87 322.07M246.47 322.07L256.87 311.67M335.5 323.4L345.9 333.8M335.5 333.8L345.9 323.4" stroke="#55e5c5" stroke-width="1.0"/>
<polyline points="72.49,354.28 165.44,310.53 251.53,286.76 340.7,294.37" stroke="#b2ea96" stroke-width="1.7"/>
<path d="M67.29 349.08L77.69 359.48M67.29 359.48L77.69 349.08M160.24 305.33L170.64 315.73M160.24 315.73L170.64 305.33M246.33 281.56L256.73 291.96M246.33 291.96L256.73 281.56M335.5 289.17L345.9 299.57M335.5 299.57L345.9 289.17" stroke="#b2ea96" stroke-width="1.0"/>
<polyline points="80.5,335.58 163.73,306.73 251.1,293.42 340.7,295.63" stroke="#b2ea96" stroke-width="1.7"/>
<path d="M75.3 330.38L85.7 340.78M75.3 340.78L85.7 330.38M158.53 301.53L168.93 311.93M158.53 311.93L168.93 301.53M245.9 288.22L256.3 298.62M245.9 298.62L256.3 288.22M335.5 290.44L345.9 300.83M335.5 300.83L345.9 290.44" stroke="#b2ea96" stroke-width="1.0"/>
<polyline points="69.06,353.96 164.73,303.24 251.67,284.54 340.7,290.56" stroke="#b2ea96" stroke-width="1.7"/>
<path d="M63.86 348.76L74.26 359.16M63.86 359.16L74.26 348.76M159.53 298.04L169.93 308.44M159.53 308.44L169.93 298.04M246.47 279.34L256.87 289.74M246.47 289.74L256.87 279.34M335.5 285.36L345.9 295.76M335.5 295.76L345.9 285.36" stroke="#b2ea96" stroke-width="1.0"/>
<polyline points="73.49,355.87 164.44,318.78 251.53,288.66 340.7,289.93" stroke="#f0904f" stroke-width="1.7"/>
<path d="M68.29 350.67L78.69 361.06M68.29 361.06L78.69 350.67M159.24 313.58L169.64 323.98M159.24 323.98L169.64 313.58M246.33 283.46L256.73 293.86M246.33 293.86L256.73 283.46M335.5 284.73L345.9 295.13M335.5 295.13L345.9 284.73" stroke="#f0904f" stroke-width="1.0"/>
<polyline points="67.77,346.99 161.01,315.61 251.1,294.68 340.7,303.56" stroke="#f0904f" stroke-width="1.7"/>
<path d="M62.57 341.79L72.97 352.19M62.57 352.19L72.97 341.79M155.81 310.41L166.21 320.81M155.81 320.81L166.21 310.41M245.9 289.48L256.3 299.88M245.9 299.88L256.3 289.48M335.5 298.36L345.9 308.76M335.5 308.76L345.9 298.36" stroke="#f0904f" stroke-width="1.0"/>
<polyline points="65.77,341.6 161.44,312.75 251.67,297.85 340.7,306.73" stroke="#f0904f" stroke-width="1.7"/>
<path d="M60.57 336.4L70.97 346.8M60.57 346.8L70.97 336.4M156.24 307.55L166.64 317.95M156.24 317.95L166.64 307.55M246.47 292.65L256.87 303.05M246.47 303.05L256.87 292.65M335.5 301.53L345.9 311.93M335.5 311.93L345.9 301.53" stroke="#f0904f" stroke-width="1.0"/>
</g>
<g stroke="#000" stroke-width="1.0">
<line x1="58.35" y1="468.4" x2="58.35" y2="464.6"/>
<line x1="58.35" y1="278.2" x2="58.35" y2="282"/>
<line x1="66.64" y1="468.4" x2="66.64" y2="464.6"/>
<line x1="66.64" y1="278.2" x2="66.64" y2="282"/>
<line x1="73.96" y1="468.4" x2="73.96" y2="464.6"/>
<line x1="73.96" y1="278.2" x2="73.96" y2="282"/>
<line x1="80.5" y1="468.4" x2="80.5" y2="461.4"/>
<line x1="80.5" y1="278.2" x2="80.5" y2="285.2"/>
<line x1="123.55" y1="468.4" x2="123.55" y2="464.6"/>
<line x1="123.55" y1="278.2" x2="123.55" y2="282"/>
<line x1="148.73" y1="468.4" x2="148.73" y2="464.6"/>
<line x1="148.73" y1="278.2" x2="148.73" y2="282"/>
<line x1="166.59" y1="468.4" x2="166.59" y2="464.6"/>
<line x1="166.59" y1="278.2" x2="166.59" y2="282"/>
<line x1="180.45" y1="468.4" x2="180.45" y2="464.6"/>
<line x1="180.45" y1="278.2" x2="180.45" y2="282"/>
<line x1="191.78" y1="468.4" x2="191.78" y2="464.6"/>
<line x1="191.78" y1="278.2" x2="191.78" y2="282"/>
<line x1="201.35" y1="468.4" x2="201.35" y2="464.6"/>
<line x1="201.35" y1="278.2" x2="201.35" y2="282"/>
<line x1="209.64" y1="468.4" x2="209.64" y2="464.6"/>
<line x1="209.64" y1="278.2" x2="209.64" y2="282"/>
<line x1="216.96" y1="468.4" x2="216.96" y2="464.6"/>
<line x1="216.96" y1="278.2" x2="216.96" y2="282"/>
<line x1="223.5" y1="468.4" x2="223.5" y2="461.4"/>
<line x1="223.5" y1="278.2" x2="223.5" y2="285.2"/>
<line x1="266.55" y1="468.4" x2="266.55" y2="464.6"/>
<line x1="266.55" y1="278.2" x2="266.55" y2="282"/>
<line x1="291.73" y1="468.4" x2="291.73" y2="464.6"/>
<line x1="291.73" y1="278.2" x2="291.73" y2="282"/>
<line x1="309.59" y1="468.4" x2="309.59" y2="464.6"/>
<line x1="309.59" y1="278.2" x2="309.59" y2="282"/>
<line x1="323.45" y1="468.4" x2="323.45" y2="464.6"/>
<line x1="323.45" y1="278.2" x2="323.45" y2="282"/>
<line x1="334.78" y1="468.4" x2="334.78" y2="464.6"/>
<line x1="334.78" y1="278.2" x2="334.78" y2="282"/>
<line x1="56.5" y1="468.4" x2="63.5" y2="468.4"/>
<line x1="340.7" y1="468.4" x2="333.7" y2="468.4"/>
<line x1="56.5" y1="436.7" x2="63.5" y2="436.7"/>
<line x1="340.7" y1="436.7" x2="333.7" y2="436.7"/>
<line x1="56.5" y1="405" x2="63.5" y2="405"/>
<line x1="340.7" y1="405" x2="333.7" y2="405"/>
<line x1="56.5" y1="373.3" x2="63.5" y2="373.3"/>
<line x1="340.7" y1="373.3" x2="333.7" y2="373.3"/>
<line x1="56.5" y1="341.6" x2="63.5" y2="341.6"/>
<line x1="340.7" y1="341.6" x2="333.7" y2="341.6"/>
<line x1="56.5" y1="309.9" x2="63.5" y2="309.9"/>
<line x1="340.7" y1="309.9" x2="333.7" y2="309.9"/>
<line x1="56.5" y1="278.2" x2="63.5" y2="278.2"/>
<line x1="340.7" y1="278.2" x2="333.7" y2="278.2"/>
</g>
<rect x="56.5" y="278.2" width="284.2" height="190.2" fill="none" stroke="#000" stroke-width="1.5"/>
<text x="38.34" y="475.55" font-size="14.97" font-family='"Liberation Sans", sans-serif' textLength="7.91" lengthAdjust="spacingAndGlyphs" fill="#000">0</text>
<text x="37.7" y="445.35" font-size="14.97" font-family='"Liberation Sans", sans-serif' textLength="8.77" lengthAdjust="spacingAndGlyphs" fill="#000">1</text>
<text x="38.15" y="414.65" font-size="14.97" font-family='"Liberation Sans", sans-serif' textLength="8.3" lengthAdjust="spacingAndGlyphs" fill="#000">2</text>
<text x="38.35" y="384.05" font-size="14.97" font-family='"Liberation Sans", sans-serif' textLength="7.98" lengthAdjust="spacingAndGlyphs" fill="#000">3</text>
<text x="38.59" y="354.05" font-size="14.97" font-family='"Liberation Sans", sans-serif' textLength="7.51" lengthAdjust="spacingAndGlyphs" fill="#000">4</text>
<text x="38.33" y="322.75" font-size="14.97" font-family='"Liberation Sans", sans-serif' textLength="7.98" lengthAdjust="spacingAndGlyphs" fill="#000">5</text>
<text x="66.48" y="491.8" font-size="15.55" font-family='"Liberation Sans", sans-serif' textLength="17.85" lengthAdjust="spacingAndGlyphs" fill="#000">10</text>
<text x="85.39" y="484.8" font-size="10.03" font-family='"Liberation Sans", sans-serif' textLength="5.98" lengthAdjust="spacingAndGlyphs" fill="#000">3</text>
<text x="217.48" y="491.8" font-size="15.55" font-family='"Liberation Sans", sans-serif' textLength="17.85" lengthAdjust="spacingAndGlyphs" fill="#000">10</text>
<text x="236.57" y="484.8" font-size="10.03" font-family='"Liberation Sans", sans-serif' textLength="5.63" lengthAdjust="spacingAndGlyphs" fill="#000">4</text>
<text x="121.86" y="514.1" font-size="14.83" font-family='"Liberation Sans", sans-serif' textLength="163.03" lengthAdjust="spacingAndGlyphs" fill="#000">Number of parameters</text>
<clipPath id="clip_f"><rect x="396.4" y="278.3" width="284.1" height="192.1"/></clipPath>
<g stroke="#000" stroke-width="1.2" stroke-dasharray="1.9 5.25" fill="none">
<line x1="408.5" y1="470.4" x2="408.5" y2="278.3"/>
<line x1="558.7" y1="470.4" x2="558.7" y2="278.3"/>
<line x1="396.4" y1="438.38" x2="680.5" y2="438.38"/>
<line x1="396.4" y1="406.37" x2="680.5" y2="406.37"/>
<line x1="396.4" y1="374.35" x2="680.5" y2="374.35"/>
<line x1="396.4" y1="342.33" x2="680.5" y2="342.33"/>
<line x1="396.4" y1="310.32" x2="680.5" y2="310.32"/>
</g>
<g clip-path="url(#clip_f)" fill="none" stroke-linejoin="round">
<polyline points="397.08,359.62 497.72,340.41 588.14,314.48 680.5,320.88" stroke="#7000e6" stroke-width="1.7"/>
<path d="M391.88 354.42L402.28 364.82M391.88 364.82L402.28 354.42M492.52 335.21L502.92 345.61M492.52 345.61L502.92 335.21M582.94 309.28L593.34 319.68M582.94 319.68L593.34 309.28M675.3 315.68L685.7 326.08M675.3 326.08L685.7 315.68" stroke="#7000e6" stroke-width="1.0"/>
<polyline points="397.08,356.74 495.02,334.97 588.14,308.4 680.5,314.8" stroke="#55e5c5" stroke-width="1.7"/>
<path d="M391.88 351.54L402.28 361.94M391.88 361.94L402.28 351.54M489.82 329.77L500.22 340.17M489.82 340.17L500.22 329.77M582.94 303.2L593.34 313.6M582.94 313.6L593.34 303.2M675.3 309.6L685.7 320M675.3 320L685.7 309.6" stroke="#55e5c5" stroke-width="1.0"/>
<polyline points="400.09,355.14 497.72,310.96 588.14,286.94 680.5,294.63" stroke="#b2ea96" stroke-width="1.7"/>
<path d="M394.89 349.94L405.29 360.34M394.89 360.34L405.29 349.94M492.52 305.76L502.92 316.16M492.52 316.16L502.92 305.76M582.94 281.74L593.34 292.14M582.94 292.14L593.34 281.74M675.3 289.43L685.7 299.83M675.3 299.83L685.7 289.43" stroke="#b2ea96" stroke-width="1.0"/>
<polyline points="401.14,356.74 496.67,319.28 588.14,288.87 680.5,290.15" stroke="#f0904f" stroke-width="1.7"/>
<path d="M395.94 351.54L406.34 361.94M395.94 361.94L406.34 351.54M491.47 314.08L501.87 324.48M491.47 324.48L501.87 314.08M582.94 283.67L593.34 294.07M582.94 294.07L593.34 283.67M675.3 284.95L685.7 295.35M675.3 295.35L685.7 284.95" stroke="#f0904f" stroke-width="1.0"/>
</g>
<g stroke="#000" stroke-width="1.0">
<line x1="401.63" y1="470.4" x2="401.63" y2="466.6"/>
<line x1="401.63" y1="278.3" x2="401.63" y2="282.1"/>
<line x1="408.5" y1="470.4" x2="408.5" y2="463.4"/>
<line x1="408.5" y1="278.3" x2="408.5" y2="285.3"/>
<line x1="453.71" y1="470.4" x2="453.71" y2="466.6"/>
<line x1="453.71" y1="278.3" x2="453.71" y2="282.1"/>
<line x1="480.16" y1="470.4" x2="480.16" y2="466.6"/>
<line x1="480.16" y1="278.3" x2="480.16" y2="282.1"/>
<line x1="498.93" y1="470.4" x2="498.93" y2="466.6"/>
<line x1="498.93" y1="278.3" x2="498.93" y2="282.1"/>
<line x1="513.49" y1="470.4" x2="513.49" y2="466.6"/>
<line x1="513.49" y1="278.3" x2="513.49" y2="282.1"/>
<line x1="525.38" y1="470.4" x2="525.38" y2="466.6"/>
<line x1="525.38" y1="278.3" x2="525.38" y2="282.1"/>
<line x1="535.43" y1="470.4" x2="535.43" y2="466.6"/>
<line x1="535.43" y1="278.3" x2="535.43" y2="282.1"/>
<line x1="544.14" y1="470.4" x2="544.14" y2="466.6"/>
<line x1="544.14" y1="278.3" x2="544.14" y2="282.1"/>
<line x1="551.83" y1="470.4" x2="551.83" y2="466.6"/>
<line x1="551.83" y1="278.3" x2="551.83" y2="282.1"/>
<line x1="558.7" y1="470.4" x2="558.7" y2="463.4"/>
<line x1="558.7" y1="278.3" x2="558.7" y2="285.3"/>
<line x1="603.91" y1="470.4" x2="603.91" y2="466.6"/>
<line x1="603.91" y1="278.3" x2="603.91" y2="282.1"/>
<line x1="630.36" y1="470.4" x2="630.36" y2="466.6"/>
<line x1="630.36" y1="278.3" x2="630.36" y2="282.1"/>
<line x1="649.13" y1="470.4" x2="649.13" y2="466.6"/>
<line x1="649.13" y1="278.3" x2="649.13" y2="282.1"/>
<line x1="663.69" y1="470.4" x2="663.69" y2="466.6"/>
<line x1="663.69" y1="278.3" x2="663.69" y2="282.1"/>
<line x1="675.58" y1="470.4" x2="675.58" y2="466.6"/>
<line x1="675.58" y1="278.3" x2="675.58" y2="282.1"/>
<line x1="396.4" y1="470.4" x2="403.4" y2="470.4"/>
<line x1="680.5" y1="470.4" x2="673.5" y2="470.4"/>
<line x1="396.4" y1="438.38" x2="403.4" y2="438.38"/>
<line x1="680.5" y1="438.38" x2="673.5" y2="438.38"/>
<line x1="396.4" y1="406.37" x2="403.4" y2="406.37"/>
<line x1="680.5" y1="406.37" x2="673.5" y2="406.37"/>
<line x1="396.4" y1="374.35" x2="403.4" y2="374.35"/>
<line x1="680.5" y1="374.35" x2="673.5" y2="374.35"/>
<line x1="396.4" y1="342.33" x2="403.4" y2="342.33"/>
<line x1="680.5" y1="342.33" x2="673.5" y2="342.33"/>
<line x1="396.4" y1="310.32" x2="403.4" y2="310.32"/>
<line x1="680.5" y1="310.32" x2="673.5" y2="310.32"/>
<line x1="396.4" y1="278.3" x2="403.4" y2="278.3"/>
<line x1="680.5" y1="278.3" x2="673.5" y2="278.3"/>
</g>
<rect x="396.4" y="278.3" width="284.1" height="192.1" fill="none" stroke="#000" stroke-width="1.5"/>
<text x="378.89" y="472.35" font-size="14.97" font-family='"Liberation Sans", sans-serif' textLength="7.91" lengthAdjust="spacingAndGlyphs" fill="#000">0</text>
<text x="378.25" y="441.75" font-size="14.97" font-family='"Liberation Sans", sans-serif' textLength="8.77" lengthAdjust="spacingAndGlyphs" fill="#000">1</text>
<text x="378.7" y="411.55" font-size="14.97" font-family='"Liberation Sans", sans-serif' textLength="8.3" lengthAdjust="spacingAndGlyphs" fill="#000">2</text>
<text x="378.9" y="380.55" font-size="14.97" font-family='"Liberation Sans", sans-serif' textLength="7.98" lengthAdjust="spacingAndGlyphs" fill="#000">3</text>
<text x="379.14" y="350.05" font-size="14.97" font-family='"Liberation Sans", sans-serif' textLength="7.51" lengthAdjust="spacingAndGlyphs" fill="#000">4</text>
<text x="378.88" y="319.05" font-size="14.97" font-family='"Liberation Sans", sans-serif' textLength="7.98" lengthAdjust="spacingAndGlyphs" fill="#000">5</text>
<text x="394.28" y="488.8" font-size="15.55" font-family='"Liberation Sans", sans-serif' textLength="17.85" lengthAdjust="spacingAndGlyphs" fill="#000">10</text>
<text x="413.19" y="481.8" font-size="10.03" font-family='"Liberation Sans", sans-serif' textLength="5.98" lengthAdjust="spacingAndGlyphs" fill="#000">3</text>
<text x="551.88" y="488.8" font-size="15.55" font-family='"Liberation Sans", sans-serif' textLength="17.85" lengthAdjust="spacingAndGlyphs" fill="#000">10</text>
<text x="570.97" y="481.8" font-size="10.03" font-family='"Liberation Sans", sans-serif' textLength="5.63" lengthAdjust="spacingAndGlyphs" fill="#000">4</text>
<text x="462.26" y="510.9" font-size="14.83" font-family='"Liberation Sans", sans-serif' textLength="162.92" lengthAdjust="spacingAndGlyphs" fill="#000">Number of parameters</text>
<clipPath id="clip_g"><rect x="733.5" y="276.4" width="286.1" height="192.1"/></clipPath>
<g stroke="#000" stroke-width="1.2" stroke-dasharray="1.9 5.25" fill="none">
<line x1="749.5" y1="468.5" x2="749.5" y2="276.4"/>
<line x1="898.4" y1="468.5" x2="898.4" y2="276.4"/>
<line x1="733.5" y1="436.48" x2="1019.6" y2="436.48"/>
<line x1="733.5" y1="404.47" x2="1019.6" y2="404.47"/>
<line x1="733.5" y1="372.45" x2="1019.6" y2="372.45"/>
<line x1="733.5" y1="340.43" x2="1019.6" y2="340.43"/>
<line x1="733.5" y1="308.42" x2="1019.6" y2="308.42"/>
</g>
<g clip-path="url(#clip_g)" fill="none" stroke-linejoin="round">
<polyline points="734.01,350.68 833.33,333.39 927.14,321.22 1019.6,318.34" stroke="#e20a0a" stroke-width="1.7"/>
<path d="M728.81 345.48L739.21 355.88M728.81 355.88L739.21 345.48M828.13 328.19L838.53 338.59M828.13 338.59L838.53 328.19M921.94 316.02L932.34 326.42M921.94 326.42L932.34 316.02M1014.4 313.14L1024.8 323.54M1014.4 323.54L1024.8 313.14" stroke="#e20a0a" stroke-width="1.0"/>
<polyline points="746.08,355.16 833.93,323.46 927.14,304.89 1019.6,300.09" stroke="#7000e6" stroke-width="1.7"/>
<path d="M740.88 349.96L751.28 360.36M740.88 360.36L751.28 349.96M828.73 318.26L839.13 328.66M828.73 328.66L839.13 318.26M921.94 299.69L932.34 310.09M921.94 310.09L932.34 299.69M1014.4 294.89L1024.8 305.29M1014.4 305.29L1024.8 294.89" stroke="#7000e6" stroke-width="1.0"/>
<polyline points="743.84,353.56 836.76,323.46 927.14,299.13 1019.6,305.21" stroke="#55e5c5" stroke-width="1.7"/>
<path d="M738.64 348.36L749.04 358.76M738.64 358.76L749.04 348.36M831.56 318.26L841.96 328.66M831.56 328.66L841.96 318.26M921.94 293.93L932.34 304.33M921.94 304.33L932.34 293.93M1014.4 300.01L1024.8 310.41M1014.4 310.41L1024.8 300.01" stroke="#55e5c5" stroke-width="1.0"/>
<polyline points="749.5,334.35 836.16,305.21 927.14,291.77 1019.6,294.01" stroke="#b2ea96" stroke-width="1.7"/>
<path d="M744.3 329.15L754.7 339.55M744.3 339.55L754.7 329.15M830.96 300.01L841.36 310.41M830.96 310.41L841.36 300.01M921.94 286.57L932.34 296.97M921.94 296.97L932.34 286.57M1014.4 288.81L1024.8 299.21M1014.4 299.21L1024.8 288.81" stroke="#b2ea96" stroke-width="1.0"/>
<polyline points="736.25,345.88 833.33,314.18 927.14,293.05 1019.6,302.01" stroke="#f0904f" stroke-width="1.7"/>
<path d="M731.05 340.68L741.45 351.08M731.05 351.08L741.45 340.68M828.13 308.98L838.53 319.38M828.13 319.38L838.53 308.98M921.94 287.85L932.34 298.25M921.94 298.25L932.34 287.85M1014.4 296.81L1024.8 307.21M1014.4 307.21L1024.8 296.81" stroke="#f0904f" stroke-width="1.0"/>
</g>
<g stroke="#000" stroke-width="1.0">
<line x1="735.07" y1="468.5" x2="735.07" y2="464.7"/>
<line x1="735.07" y1="276.4" x2="735.07" y2="280.2"/>
<line x1="742.69" y1="468.5" x2="742.69" y2="464.7"/>
<line x1="742.69" y1="276.4" x2="742.69" y2="280.2"/>
<line x1="749.5" y1="468.5" x2="749.5" y2="461.5"/>
<line x1="749.5" y1="276.4" x2="749.5" y2="283.4"/>
<line x1="794.32" y1="468.5" x2="794.32" y2="464.7"/>
<line x1="794.32" y1="276.4" x2="794.32" y2="280.2"/>
<line x1="820.54" y1="468.5" x2="820.54" y2="464.7"/>
<line x1="820.54" y1="276.4" x2="820.54" y2="280.2"/>
<line x1="839.15" y1="468.5" x2="839.15" y2="464.7"/>
<line x1="839.15" y1="276.4" x2="839.15" y2="280.2"/>
<line x1="853.58" y1="468.5" x2="853.58" y2="464.7"/>
<line x1="853.58" y1="276.4" x2="853.58" y2="280.2"/>
<line x1="865.37" y1="468.5" x2="865.37" y2="464.7"/>
<line x1="865.37" y1="276.4" x2="865.37" y2="280.2"/>
<line x1="875.34" y1="468.5" x2="875.34" y2="464.7"/>
<line x1="875.34" y1="276.4" x2="875.34" y2="280.2"/>
<line x1="883.97" y1="468.5" x2="883.97" y2="464.7"/>
<line x1="883.97" y1="276.4" x2="883.97" y2="280.2"/>
<line x1="891.59" y1="468.5" x2="891.59" y2="464.7"/>
<line x1="891.59" y1="276.4" x2="891.59" y2="280.2"/>
<line x1="898.4" y1="468.5" x2="898.4" y2="461.5"/>
<line x1="898.4" y1="276.4" x2="898.4" y2="283.4"/>
<line x1="943.22" y1="468.5" x2="943.22" y2="464.7"/>
<line x1="943.22" y1="276.4" x2="943.22" y2="280.2"/>
<line x1="969.44" y1="468.5" x2="969.44" y2="464.7"/>
<line x1="969.44" y1="276.4" x2="969.44" y2="280.2"/>
<line x1="988.05" y1="468.5" x2="988.05" y2="464.7"/>
<line x1="988.05" y1="276.4" x2="988.05" y2="280.2"/>
<line x1="1002.48" y1="468.5" x2="1002.48" y2="464.7"/>
<line x1="1002.48" y1="276.4" x2="1002.48" y2="280.2"/>
<line x1="1014.27" y1="468.5" x2="1014.27" y2="464.7"/>
<line x1="1014.27" y1="276.4" x2="1014.27" y2="280.2"/>
<line x1="733.5" y1="468.5" x2="740.5" y2="468.5"/>
<line x1="1019.6" y1="468.5" x2="1012.6" y2="468.5"/>
<line x1="733.5" y1="436.48" x2="740.5" y2="436.48"/>
<line x1="1019.6" y1="436.48" x2="1012.6" y2="436.48"/>
<line x1="733.5" y1="404.47" x2="740.5" y2="404.47"/>
<line x1="1019.6" y1="404.47" x2="1012.6" y2="404.47"/>
<line x1="733.5" y1="372.45" x2="740.5" y2="372.45"/>
<line x1="1019.6" y1="372.45" x2="1012.6" y2="372.45"/>
<line x1="733.5" y1="340.43" x2="740.5" y2="340.43"/>
<line x1="1019.6" y1="340.43" x2="1012.6" y2="340.43"/>
<line x1="733.5" y1="308.42" x2="740.5" y2="308.42"/>
<line x1="1019.6" y1="308.42" x2="1012.6" y2="308.42"/>
<line x1="733.5" y1="276.4" x2="740.5" y2="276.4"/>
<line x1="1019.6" y1="276.4" x2="1012.6" y2="276.4"/>
</g>
<rect x="733.5" y="276.4" width="286.1" height="192.1" fill="none" stroke="#000" stroke-width="1.5"/>
<text x="717.44" y="474.55" font-size="14.97" font-family='"Liberation Sans", sans-serif' textLength="7.91" lengthAdjust="spacingAndGlyphs" fill="#000">0</text>
<text x="716.8" y="443.55" font-size="14.97" font-family='"Liberation Sans", sans-serif' textLength="8.77" lengthAdjust="spacingAndGlyphs" fill="#000">1</text>
<text x="717.25" y="413.35" font-size="14.97" font-family='"Liberation Sans", sans-serif' textLength="8.3" lengthAdjust="spacingAndGlyphs" fill="#000">2</text>
<text x="717.45" y="382.35" font-size="14.97" font-family='"Liberation Sans", sans-serif' textLength="7.98" lengthAdjust="spacingAndGlyphs" fill="#000">3</text>
<text x="717.69" y="351.85" font-size="14.97" font-family='"Liberation Sans", sans-serif' textLength="7.51" lengthAdjust="spacingAndGlyphs" fill="#000">4</text>
<text x="717.43" y="320.85" font-size="14.97" font-family='"Liberation Sans", sans-serif' textLength="7.98" lengthAdjust="spacingAndGlyphs" fill="#000">5</text>
<text x="736.38" y="490.6" font-size="15.55" font-family='"Liberation Sans", sans-serif' textLength="17.85" lengthAdjust="spacingAndGlyphs" fill="#000">10</text>
<text x="755.29" y="483.6" font-size="10.03" font-family='"Liberation Sans", sans-serif' textLength="5.98" lengthAdjust="spacingAndGlyphs" fill="#000">3</text>
<text x="891.58" y="490.6" font-size="15.55" font-family='"Liberation Sans", sans-serif' textLength="17.85" lengthAdjust="spacingAndGlyphs" fill="#000">10</text>
<text x="910.67" y="483.6" font-size="10.03" font-family='"Liberation Sans", sans-serif' textLength="5.63" lengthAdjust="spacingAndGlyphs" fill="#000">4</text>
<text x="800.76" y="512.6" font-size="14.54" font-family='"Liberation Sans", sans-serif' textLength="163.13" lengthAdjust="spacingAndGlyphs" fill="#000">Number of parameters</text>
<clipPath id="clip_h"><rect x="1075.4" y="276.4" width="286" height="192.1"/></clipPath>
<g stroke="#000" stroke-width="1.2" stroke-dasharray="1.9 5.25" fill="none">
<line x1="1100.6" y1="468.5" x2="1100.6" y2="276.4"/>
<line x1="1244.4" y1="468.5" x2="1244.4" y2="276.4"/>
<line x1="1075.4" y1="436.48" x2="1361.4" y2="436.48"/>
<line x1="1075.4" y1="404.47" x2="1361.4" y2="404.47"/>
<line x1="1075.4" y1="372.45" x2="1361.4" y2="372.45"/>
<line x1="1075.4" y1="340.43" x2="1361.4" y2="340.43"/>
<line x1="1075.4" y1="308.42" x2="1361.4" y2="308.42"/>
</g>
<g clip-path="url(#clip_h)" fill="none" stroke-linejoin="round">
<polyline points="1090.82,351.32 1176.53,333.39 1272.73,318.34 1361.4,317.7" stroke="#e20a0a" stroke-width="1.7"/>
<path d="M1085.62 346.12L1096.02 356.52M1085.62 356.52L1096.02 346.12M1171.33 328.19L1181.73 338.59M1171.33 338.59L1181.73 328.19M1267.53 313.14L1277.93 323.54M1267.53 323.54L1277.93 313.14M1356.2 312.5L1366.6 322.9M1356.2 322.9L1366.6 312.5" stroke="#e20a0a" stroke-width="1.0"/>
<polyline points="1088.66,349.08 1180.27,318.98 1272.73,304.25 1361.4,304.57" stroke="#7000e6" stroke-width="1.7"/>
<path d="M1083.46 343.88L1093.86 354.28M1083.46 354.28L1093.86 343.88M1175.07 313.78L1185.47 324.18M1175.07 324.18L1185.47 313.78M1267.53 299.05L1277.93 309.45M1267.53 309.45L1277.93 299.05M1356.2 299.37L1366.6 309.77M1356.2 309.77L1366.6 299.37" stroke="#7000e6" stroke-width="1.0"/>
<polyline points="1076.59,356.12 1175.38,339.79 1272.73,315.46 1361.4,327.31" stroke="#55e5c5" stroke-width="1.7"/>
<path d="M1071.39 350.92L1081.79 361.32M1071.39 361.32L1081.79 350.92M1170.18 334.59L1180.58 344.99M1170.18 344.99L1180.58 334.59M1267.53 310.26L1277.93 320.66M1267.53 320.66L1277.93 310.26M1356.2 322.11L1366.6 332.51M1356.2 332.51L1366.6 322.11" stroke="#55e5c5" stroke-width="1.0"/>
<polyline points="1089.1,352.92 1185.3,301.69 1272.73,282.8 1361.4,288.89" stroke="#b2ea96" stroke-width="1.7"/>
<path d="M1083.9 347.72L1094.3 358.12M1083.9 358.12L1094.3 347.72M1180.1 296.49L1190.5 306.89M1180.1 306.89L1190.5 296.49M1267.53 277.6L1277.93 288M1267.53 288L1277.93 277.6M1356.2 283.69L1366.6 294.09M1356.2 294.09L1366.6 283.69" stroke="#b2ea96" stroke-width="1.0"/>
<polyline points="1085.79,340.43 1181.99,311.3 1272.73,296.25 1361.4,305.21" stroke="#f0904f" stroke-width="1.7"/>
<path d="M1080.59 335.23L1090.99 345.63M1080.59 345.63L1090.99 335.23M1176.79 306.1L1187.19 316.5M1176.79 316.5L1187.19 306.1M1267.53 291.05L1277.93 301.45M1267.53 301.45L1277.93 291.05M1356.2 300.01L1366.6 310.41M1356.2 310.41L1366.6 300.01" stroke="#f0904f" stroke-width="1.0"/>
</g>
<g stroke="#000" stroke-width="1.0">
<line x1="1078.33" y1="468.5" x2="1078.33" y2="464.7"/>
<line x1="1078.33" y1="276.4" x2="1078.33" y2="280.2"/>
<line x1="1086.66" y1="468.5" x2="1086.66" y2="464.7"/>
<line x1="1086.66" y1="276.4" x2="1086.66" y2="280.2"/>
<line x1="1094.02" y1="468.5" x2="1094.02" y2="464.7"/>
<line x1="1094.02" y1="276.4" x2="1094.02" y2="280.2"/>
<line x1="1100.6" y1="468.5" x2="1100.6" y2="461.5"/>
<line x1="1100.6" y1="276.4" x2="1100.6" y2="283.4"/>
<line x1="1143.89" y1="468.5" x2="1143.89" y2="464.7"/>
<line x1="1143.89" y1="276.4" x2="1143.89" y2="280.2"/>
<line x1="1169.21" y1="468.5" x2="1169.21" y2="464.7"/>
<line x1="1169.21" y1="276.4" x2="1169.21" y2="280.2"/>
<line x1="1187.18" y1="468.5" x2="1187.18" y2="464.7"/>
<line x1="1187.18" y1="276.4" x2="1187.18" y2="280.2"/>
<line x1="1201.11" y1="468.5" x2="1201.11" y2="464.7"/>
<line x1="1201.11" y1="276.4" x2="1201.11" y2="280.2"/>
<line x1="1212.5" y1="468.5" x2="1212.5" y2="464.7"/>
<line x1="1212.5" y1="276.4" x2="1212.5" y2="280.2"/>
<line x1="1222.13" y1="468.5" x2="1222.13" y2="464.7"/>
<line x1="1222.13" y1="276.4" x2="1222.13" y2="280.2"/>
<line x1="1230.46" y1="468.5" x2="1230.46" y2="464.7"/>
<line x1="1230.46" y1="276.4" x2="1230.46" y2="280.2"/>
<line x1="1237.82" y1="468.5" x2="1237.82" y2="464.7"/>
<line x1="1237.82" y1="276.4" x2="1237.82" y2="280.2"/>
<line x1="1244.4" y1="468.5" x2="1244.4" y2="461.5"/>
<line x1="1244.4" y1="276.4" x2="1244.4" y2="283.4"/>
<line x1="1287.69" y1="468.5" x2="1287.69" y2="464.7"/>
<line x1="1287.69" y1="276.4" x2="1287.69" y2="280.2"/>
<line x1="1313.01" y1="468.5" x2="1313.01" y2="464.7"/>
<line x1="1313.01" y1="276.4" x2="1313.01" y2="280.2"/>
<line x1="1330.98" y1="468.5" x2="1330.98" y2="464.7"/>
<line x1="1330.98" y1="276.4" x2="1330.98" y2="280.2"/>
<line x1="1344.91" y1="468.5" x2="1344.91" y2="464.7"/>
<line x1="1344.91" y1="276.4" x2="1344.91" y2="280.2"/>
<line x1="1356.3" y1="468.5" x2="1356.3" y2="464.7"/>
<line x1="1356.3" y1="276.4" x2="1356.3" y2="280.2"/>
<line x1="1075.4" y1="468.5" x2="1082.4" y2="468.5"/>
<line x1="1361.4" y1="468.5" x2="1354.4" y2="468.5"/>
<line x1="1075.4" y1="436.48" x2="1082.4" y2="436.48"/>
<line x1="1361.4" y1="436.48" x2="1354.4" y2="436.48"/>
<line x1="1075.4" y1="404.47" x2="1082.4" y2="404.47"/>
<line x1="1361.4" y1="404.47" x2="1354.4" y2="404.47"/>
<line x1="1075.4" y1="372.45" x2="1082.4" y2="372.45"/>
<line x1="1361.4" y1="372.45" x2="1354.4" y2="372.45"/>
<line x1="1075.4" y1="340.43" x2="1082.4" y2="340.43"/>
<line x1="1361.4" y1="340.43" x2="1354.4" y2="340.43"/>
<line x1="1075.4" y1="308.42" x2="1082.4" y2="308.42"/>
<line x1="1361.4" y1="308.42" x2="1354.4" y2="308.42"/>
<line x1="1075.4" y1="276.4" x2="1082.4" y2="276.4"/>
<line x1="1361.4" y1="276.4" x2="1354.4" y2="276.4"/>
</g>
<rect x="1075.4" y="276.4" width="286" height="192.1" fill="none" stroke="#000" stroke-width="1.5"/>
<text x="1057.64" y="474.55" font-size="14.97" font-family='"Liberation Sans", sans-serif' textLength="7.91" lengthAdjust="spacingAndGlyphs" fill="#000">0</text>
<text x="1057" y="443.55" font-size="14.97" font-family='"Liberation Sans", sans-serif' textLength="8.77" lengthAdjust="spacingAndGlyphs" fill="#000">1</text>
<text x="1057.45" y="413.35" font-size="14.97" font-family='"Liberation Sans", sans-serif' textLength="8.3" lengthAdjust="spacingAndGlyphs" fill="#000">2</text>
<text x="1057.65" y="382.35" font-size="14.97" font-family='"Liberation Sans", sans-serif' textLength="7.98" lengthAdjust="spacingAndGlyphs" fill="#000">3</text>
<text x="1057.89" y="351.85" font-size="14.97" font-family='"Liberation Sans", sans-serif' textLength="7.51" lengthAdjust="spacingAndGlyphs" fill="#000">4</text>
<text x="1057.63" y="320.85" font-size="14.97" font-family='"Liberation Sans", sans-serif' textLength="7.98" lengthAdjust="spacingAndGlyphs" fill="#000">5</text>
<text x="1085.18" y="490.6" font-size="15.55" font-family='"Liberation Sans", sans-serif' textLength="17.85" lengthAdjust="spacingAndGlyphs" fill="#000">10</text>
<text x="1104.09" y="483.6" font-size="10.03" font-family='"Liberation Sans", sans-serif' textLength="5.98" lengthAdjust="spacingAndGlyphs" fill="#000">3</text>
<text x="1235.88" y="490.6" font-size="15.55" font-family='"Liberation Sans", sans-serif' textLength="17.85" lengthAdjust="spacingAndGlyphs" fill="#000">10</text>
<text x="1254.97" y="483.6" font-size="10.03" font-family='"Liberation Sans", sans-serif' textLength="5.63" lengthAdjust="spacingAndGlyphs" fill="#000">4</text>
<text x="1141.16" y="512.6" font-size="14.54" font-family='"Liberation Sans", sans-serif' textLength="163.23" lengthAdjust="spacingAndGlyphs" fill="#000">Number of parameters</text>
<text x="-143.2" y="12.9" font-size="15.26" font-family='"Liberation Sans", sans-serif' textLength="26.48" lengthAdjust="spacingAndGlyphs" transform="rotate(-90)" fill="#000">Bits</text>
<text x="-447.35" y="25.8" font-size="15.26" font-family='"Liberation Sans", sans-serif' textLength="135.53" lengthAdjust="spacingAndGlyphs" transform="rotate(-90)" fill="#000">Bits per parameter</text>
<text x="133.99" y="22.46" font-size="31.21" font-family='"Liberation Serif", serif' textLength="133.28" lengthAdjust="spacingAndGlyphs" fill="#000">All depths</text>
<text x="496.3" y="22.23" font-size="30.45" font-family='"Liberation Serif", serif' textLength="87.58" lengthAdjust="spacingAndGlyphs" fill="#000">1 layer</text>
<text x="828.38" y="22.18" font-size="30.67" font-family='"Liberation Serif", serif' textLength="101.59" lengthAdjust="spacingAndGlyphs" fill="#000">2 layers</text>
<text x="1167.37" y="22.18" font-size="30.67" font-family='"Liberation Serif", serif' textLength="100.89" lengthAdjust="spacingAndGlyphs" fill="#000">4 layers</text>
<text x="17.78" y="36.5" font-size="25.37" font-family='"Liberation Serif", serif' textLength="28.34" lengthAdjust="spacingAndGlyphs" fill="#000">(a)</text>
<text x="356.49" y="36.47" font-size="25.03" font-family='"Liberation Serif", serif' textLength="29.53" lengthAdjust="spacingAndGlyphs" fill="#000">(b)</text>
<text x="696.78" y="36.7" font-size="25.37" font-family='"Liberation Serif", serif' textLength="28.24" lengthAdjust="spacingAndGlyphs" fill="#000">(c)</text>
<text x="1033.79" y="36.7" font-size="25.37" font-family='"Liberation Serif", serif' textLength="29.53" lengthAdjust="spacingAndGlyphs" fill="#000">(d)</text>
<text x="17.78" y="280.6" font-size="25.37" font-family='"Liberation Serif", serif' textLength="28.34" lengthAdjust="spacingAndGlyphs" fill="#000">(e)</text>
<text x="359.79" y="280.71" font-size="24.86" font-family='"Liberation Serif", serif' textLength="25.33" lengthAdjust="spacingAndGlyphs" fill="#000">(f)</text>
<text x="693.39" y="278.83" font-size="24.4" font-family='"Liberation Serif", serif' textLength="29.53" lengthAdjust="spacingAndGlyphs" fill="#000">(g)</text>
<text x="1035.59" y="280.6" font-size="25.37" font-family='"Liberation Serif", serif' textLength="29.53" lengthAdjust="spacingAndGlyphs" fill="#000">(h)</text>
<text x="420.75" y="623.56" font-size="24.15" font-family='"Liberation Serif", serif' textLength="24.7" lengthAdjust="spacingAndGlyphs" fill="#000">(i)</text>
<rect x="437.5" y="543.5" width="529.9" height="28" fill="#fff" stroke="#000" stroke-width="1.2"/>
<line x1="446.7" y1="556.2" x2="471.9" y2="556.2" stroke="#b2ea96" stroke-width="3"/>
<text x="487.79" y="561.8" font-size="16.8" font-family='"Liberation Sans", sans-serif' textLength="26.4" lengthAdjust="spacingAndGlyphs" fill="#000">rnn</text>
<line x1="549" y1="556.2" x2="574" y2="556.2" stroke="#f0904f" stroke-width="3"/>
<text x="589.11" y="561.8" font-size="16.8" font-family='"Liberation Sans", sans-serif' textLength="46.99" lengthAdjust="spacingAndGlyphs" fill="#000">ugrnn</text>
<line x1="670" y1="556.2" x2="695" y2="556.2" stroke="#7000e6" stroke-width="3"/>
<text x="710.81" y="561.8" font-size="16.8" font-family='"Liberation Sans", sans-serif' textLength="27.14" lengthAdjust="spacingAndGlyphs" fill="#000">gru</text>
<line x1="772.1" y1="556.2" x2="797.1" y2="556.2" stroke="#55e5c5" stroke-width="3"/>
<text x="812.76" y="561.8" font-size="16.8" font-family='"Liberation Sans", sans-serif' textLength="33.86" lengthAdjust="spacingAndGlyphs" fill="#000">lstm</text>
<line x1="880.9" y1="556.2" x2="905.9" y2="556.2" stroke="#e20a0a" stroke-width="3"/>
<text x="922.35" y="561.8" font-size="16.8" font-family='"Liberation Sans", sans-serif' textLength="39.3" lengthAdjust="spacingAndGlyphs" fill="#000">+rnn</text>
<rect x="458.6" y="626.6" width="88.04" height="88.26" fill="#ffffff"/>
<rect x="546.34" y="626.6" width="88.04" height="88.26" fill="#ffecec"/>
<rect x="634.08" y="626.6" width="88.04" height="88.26" fill="#ffc5c5"/>
<rect x="721.82" y="626.6" width="88.04" height="88.26" fill="#ffb8b8"/>
<rect x="809.56" y="626.6" width="88.04" height="88.26" fill="#ffabab"/>
<rect x="458.6" y="714.56" width="88.04" height="88.26" fill="#ededff"/>
<rect x="546.34" y="714.56" width="88.04" height="88.26" fill="#ffffff"/>
<rect x="634.08" y="714.56" width="88.04" height="88.26" fill="#ffd9d9"/>
<rect x="721.82" y="714.56" width="88.04" height="88.26" fill="#ffcdcd"/>
<rect x="809.56" y="714.56" width="88.04" height="88.26" fill="#ffc0c0"/>
<rect x="458.6" y="802.52" width="88.04" height="88.26" fill="#cbcbff"/>
<rect x="546.34" y="802.52" width="88.04" height="88.26" fill="#dcdcff"/>
<rect x="634.08" y="802.52" width="88.04" height="88.26" fill="#ffffff"/>
<rect x="721.82" y="802.52" width="88.04" height="88.26" fill="#fff3f3"/>
<rect x="809.56" y="802.52" width="88.04" height="88.26" fill="#ffe8e8"/>
<rect x="458.6" y="890.48" width="88.04" height="88.26" fill="#c0c0ff"/>
<rect x="546.34" y="890.48" width="88.04" height="88.26" fill="#d1d1ff"/>
<rect x="634.08" y="890.48" width="88.04" height="88.26" fill="#f3f3ff"/>
<rect x="721.82" y="890.48" width="88.04" height="88.26" fill="#ffffff"/>
<rect x="809.56" y="890.48" width="88.04" height="88.26" fill="#fff3f3"/>
<rect x="458.6" y="978.44" width="88.04" height="88.26" fill="#b7b7ff"/>
<rect x="546.34" y="978.44" width="88.04" height="88.26" fill="#c7c7ff"/>
<rect x="634.08" y="978.44" width="88.04" height="88.26" fill="#e9e9ff"/>
<rect x="721.82" y="978.44" width="88.04" height="88.26" fill="#f4f4ff"/>
<rect x="809.56" y="978.44" width="88.04" height="88.26" fill="#ffffff"/>
<rect x="458.6" y="626.6" width="438.7" height="439.8" fill="none" stroke="#222" stroke-width="1.1"/>
<text x="473.69" y="676.48" font-size="20.35" font-family='"Liberation Sans", sans-serif' textLength="56.71" lengthAdjust="spacingAndGlyphs" fill="#000">1.000</text>
<text x="561.43" y="676.48" font-size="20.35" font-family='"Liberation Sans", sans-serif' textLength="56.98" lengthAdjust="spacingAndGlyphs" fill="#000">1.037</text>
<text x="649.18" y="676.48" font-size="20.35" font-family='"Liberation Sans", sans-serif' textLength="56.48" lengthAdjust="spacingAndGlyphs" fill="#000">1.114</text>
<text x="736.91" y="676.48" font-size="20.35" font-family='"Liberation Sans", sans-serif' textLength="56.71" lengthAdjust="spacingAndGlyphs" fill="#000">1.140</text>
<text x="824.65" y="676.48" font-size="20.35" font-family='"Liberation Sans", sans-serif' textLength="56.78" lengthAdjust="spacingAndGlyphs" fill="#000">1.165</text>
<text x="474.55" y="764.44" font-size="20.35" font-family='"Liberation Sans", sans-serif' textLength="55.91" lengthAdjust="spacingAndGlyphs" fill="#000">0.965</text>
<text x="561.43" y="764.44" font-size="20.35" font-family='"Liberation Sans", sans-serif' textLength="56.71" lengthAdjust="spacingAndGlyphs" fill="#000">1.000</text>
<text x="649.17" y="764.44" font-size="20.35" font-family='"Liberation Sans", sans-serif' textLength="56.78" lengthAdjust="spacingAndGlyphs" fill="#000">1.075</text>
<text x="736.91" y="764.44" font-size="20.35" font-family='"Liberation Sans", sans-serif' textLength="56.91" lengthAdjust="spacingAndGlyphs" fill="#000">1.099</text>
<text x="824.66" y="764.44" font-size="20.35" font-family='"Liberation Sans", sans-serif' textLength="56.48" lengthAdjust="spacingAndGlyphs" fill="#000">1.124</text>
<text x="474.55" y="852.4" font-size="20.35" font-family='"Liberation Sans", sans-serif' textLength="55.94" lengthAdjust="spacingAndGlyphs" fill="#000">0.898</text>
<text x="562.28" y="852.4" font-size="20.35" font-family='"Liberation Sans", sans-serif' textLength="56.07" lengthAdjust="spacingAndGlyphs" fill="#000">0.931</text>
<text x="649.17" y="852.4" font-size="20.35" font-family='"Liberation Sans", sans-serif' textLength="56.71" lengthAdjust="spacingAndGlyphs" fill="#000">1.000</text>
<text x="736.91" y="852.4" font-size="20.35" font-family='"Liberation Sans", sans-serif' textLength="56.83" lengthAdjust="spacingAndGlyphs" fill="#000">1.023</text>
<text x="824.65" y="852.4" font-size="20.35" font-family='"Liberation Sans", sans-serif' textLength="56.83" lengthAdjust="spacingAndGlyphs" fill="#000">1.046</text>
<text x="474.54" y="940.36" font-size="20.35" font-family='"Liberation Sans", sans-serif' textLength="56.1" lengthAdjust="spacingAndGlyphs" fill="#000">0.877</text>
<text x="562.29" y="940.36" font-size="20.35" font-family='"Liberation Sans", sans-serif' textLength="55.84" lengthAdjust="spacingAndGlyphs" fill="#000">0.910</text>
<text x="650.02" y="940.36" font-size="20.35" font-family='"Liberation Sans", sans-serif' textLength="56.1" lengthAdjust="spacingAndGlyphs" fill="#000">0.977</text>
<text x="736.91" y="940.36" font-size="20.35" font-family='"Liberation Sans", sans-serif' textLength="56.71" lengthAdjust="spacingAndGlyphs" fill="#000">1.000</text>
<text x="824.65" y="940.36" font-size="20.35" font-family='"Liberation Sans", sans-serif' textLength="56.83" lengthAdjust="spacingAndGlyphs" fill="#000">1.023</text>
<text x="474.55" y="1028.32" font-size="20.35" font-family='"Liberation Sans", sans-serif' textLength="55.94" lengthAdjust="spacingAndGlyphs" fill="#000">0.858</text>
<text x="562.29" y="1028.32" font-size="20.35" font-family='"Liberation Sans", sans-serif' textLength="55.84" lengthAdjust="spacingAndGlyphs" fill="#000">0.890</text>
<text x="650.03" y="1028.32" font-size="20.35" font-family='"Liberation Sans", sans-serif' textLength="55.96" lengthAdjust="spacingAndGlyphs" fill="#000">0.956</text>
<text x="737.77" y="1028.32" font-size="20.35" font-family='"Liberation Sans", sans-serif' textLength="55.94" lengthAdjust="spacingAndGlyphs" fill="#000">0.978</text>
<text x="824.65" y="1028.32" font-size="20.35" font-family='"Liberation Sans", sans-serif' textLength="56.71" lengthAdjust="spacingAndGlyphs" fill="#000">1.000</text>
<text x="484.49" y="619.2" font-size="20.3" font-family='"Liberation Sans", sans-serif' textLength="35.09" lengthAdjust="spacingAndGlyphs" fill="#000">rnn</text>
<text x="559.67" y="619.2" font-size="20.3" font-family='"Liberation Sans", sans-serif' textLength="60.37" lengthAdjust="spacingAndGlyphs" fill="#000">ugrnn</text>
<text x="661.32" y="619.2" font-size="20.3" font-family='"Liberation Sans", sans-serif' textLength="33.84" lengthAdjust="spacingAndGlyphs" fill="#000">gru</text>
<text x="743.46" y="619.2" font-size="20.3" font-family='"Liberation Sans", sans-serif' textLength="44.54" lengthAdjust="spacingAndGlyphs" fill="#000">lstm</text>
<text x="829.09" y="619.2" font-size="20.3" font-family='"Liberation Sans", sans-serif' textLength="50.11" lengthAdjust="spacingAndGlyphs" fill="#000">+rnn</text>
<text x="420.81" y="676.48" font-size="20.3" font-family='"Liberation Sans", sans-serif' textLength="34.54" lengthAdjust="spacingAndGlyphs" fill="#000">rnn</text>
<text x="395.07" y="764.44" font-size="20.3" font-family='"Liberation Sans", sans-serif' textLength="60.26" lengthAdjust="spacingAndGlyphs" fill="#000">ugrnn</text>
<text x="420.9" y="852.4" font-size="20.3" font-family='"Liberation Sans", sans-serif' textLength="34.49" lengthAdjust="spacingAndGlyphs" fill="#000">gru</text>
<text x="410.65" y="940.36" font-size="20.3" font-family='"Liberation Sans", sans-serif' textLength="44.75" lengthAdjust="spacingAndGlyphs" fill="#000">lstm</text>
<text x="405.19" y="1028.32" font-size="20.3" font-family='"Liberation Sans", sans-serif' textLength="50.22" lengthAdjust="spacingAndGlyphs" fill="#000">+rnn</text>
<defs><linearGradient id="bwr" x1="0" y1="1" x2="0" y2="0"><stop offset="0" stop-color="#0000ff"/><stop offset="0.5" stop-color="#ffffff"/><stop offset="1" stop-color="#ff0000"/></linearGradient></defs>
<rect x="925.4" y="624.4" width="22.1" height="444.1" fill="url(#bwr)" stroke="#111" stroke-width="1.1"/>
<text x="950.21" y="629.2" font-size="16.86" font-family='"Liberation Sans", sans-serif' textLength="35.5" lengthAdjust="spacingAndGlyphs" fill="#000">1.50</text>
<line x1="944.5" y1="691" x2="947.5" y2="691" stroke="#000" stroke-width="1"/>
<text x="950.21" y="695.8" font-size="16.86" font-family='"Liberation Sans", sans-serif' textLength="35.56" lengthAdjust="spacingAndGlyphs" fill="#000">1.35</text>
<line x1="944.5" y1="757.6" x2="947.5" y2="757.6" stroke="#000" stroke-width="1"/>
<text x="950.21" y="762.4" font-size="16.86" font-family='"Liberation Sans", sans-serif' textLength="35.5" lengthAdjust="spacingAndGlyphs" fill="#000">1.20</text>
<line x1="944.5" y1="824.2" x2="947.5" y2="824.2" stroke="#000" stroke-width="1"/>
<text x="950.21" y="829" font-size="16.86" font-family='"Liberation Sans", sans-serif' textLength="35.56" lengthAdjust="spacingAndGlyphs" fill="#000">1.05</text>
<line x1="944.5" y1="890.8" x2="947.5" y2="890.8" stroke="#000" stroke-width="1"/>
<text x="950.9" y="895.6" font-size="16.86" font-family='"Liberation Sans", sans-serif' textLength="34.8" lengthAdjust="spacingAndGlyphs" fill="#000">0.90</text>
<line x1="944.5" y1="957.4" x2="947.5" y2="957.4" stroke="#000" stroke-width="1"/>
<text x="950.9" y="962.2" font-size="16.86" font-family='"Liberation Sans", sans-serif' textLength="34.85" lengthAdjust="spacingAndGlyphs" fill="#000">0.75</text>
<line x1="944.5" y1="1024" x2="947.5" y2="1024" stroke="#000" stroke-width="1"/>
<text x="950.9" y="1028.8" font-size="16.86" font-family='"Liberation Sans", sans-serif' textLength="34.8" lengthAdjust="spacingAndGlyphs" fill="#000">0.60</text>
</svg></body></html>
